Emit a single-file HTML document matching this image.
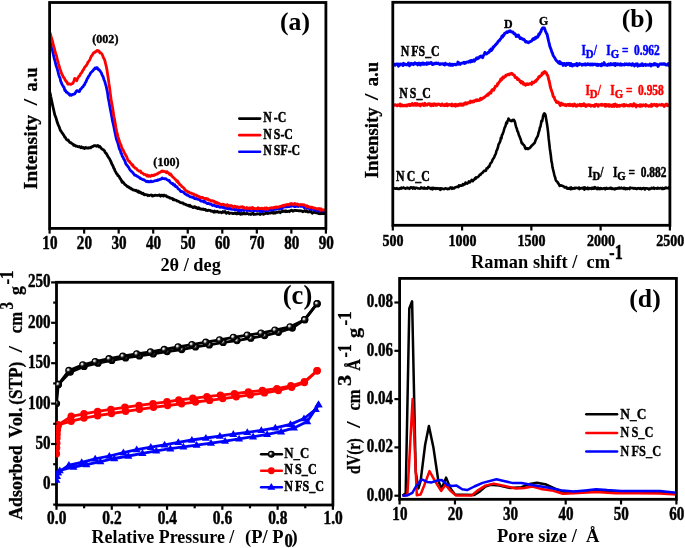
<!DOCTYPE html>
<html><head><meta charset="utf-8"><title>Figure</title>
<style>
html,body{margin:0;padding:0;background:#fff;}
svg{display:block;font-family:'Liberation Serif','DejaVu Serif',serif;}
</style></head><body>
<svg width="685" height="548" viewBox="0 0 685 548">
<rect width="685" height="548" fill="#fff"/>
<path d="M50.0,92.5 L50.7,96.3 L51.4,99.6 L52.1,102.8 L52.8,106.2 L53.5,109.0 L54.2,112.2 L54.9,115.2 L55.6,116.8 L56.3,118.9 L57.0,121.5 L57.7,123.4 L58.4,125.3 L59.1,126.6 L59.8,128.7 L60.5,130.6 L61.2,131.2 L61.9,132.8 L62.6,133.4 L63.3,134.7 L64.0,135.5 L64.7,137.1 L65.4,137.5 L66.1,139.0 L66.8,139.7 L67.5,140.3 L68.2,140.0 L68.9,141.4 L69.6,142.2 L70.3,142.8 L71.0,142.6 L71.7,143.5 L72.4,143.8 L73.1,144.3 L73.8,145.4 L74.5,145.0 L75.2,145.7 L75.9,146.3 L76.6,146.0 L77.3,146.4 L78.0,146.7 L78.7,146.8 L79.4,146.5 L80.1,147.1 L80.8,147.8 L81.5,146.8 L82.2,147.8 L82.9,147.7 L83.6,147.5 L84.3,148.6 L85.0,148.2 L85.7,147.5 L86.4,148.0 L87.1,148.2 L87.8,147.9 L88.5,148.2 L89.2,147.7 L89.9,147.8 L90.6,147.9 L91.3,146.8 L92.0,146.9 L92.7,146.4 L93.4,146.3 L94.1,145.6 L94.8,145.7 L95.5,145.7 L96.2,146.2 L96.9,146.3 L97.6,145.5 L98.3,146.0 L99.0,146.9 L99.7,146.3 L100.4,147.3 L101.1,148.0 L101.8,149.0 L102.5,149.3 L103.2,149.5 L103.9,150.2 L104.6,151.1 L105.3,152.8 L106.0,153.0 L106.7,154.2 L107.4,155.6 L108.1,156.7 L108.8,157.9 L109.5,158.7 L110.2,160.3 L110.9,161.5 L111.6,163.5 L112.3,164.8 L113.0,166.0 L113.7,167.9 L114.4,169.0 L115.1,171.0 L115.8,172.0 L116.5,173.6 L117.2,174.0 L117.9,175.7 L118.6,175.9 L119.3,176.8 L120.0,178.4 L120.7,179.1 L121.4,180.5 L122.1,182.2 L122.8,181.8 L123.5,182.6 L124.2,183.7 L124.9,184.5 L125.6,184.9 L126.3,185.5 L127.0,186.4 L127.7,186.8 L128.4,186.7 L129.1,187.5 L129.8,188.0 L130.5,187.9 L131.2,188.8 L131.9,188.8 L132.6,189.8 L133.3,189.9 L134.0,190.2 L134.7,190.2 L135.4,190.7 L136.1,190.2 L136.8,190.8 L137.5,191.7 L138.2,191.0 L138.9,192.4 L139.6,191.7 L140.3,192.9 L141.0,192.5 L141.7,193.5 L142.4,193.5 L143.1,193.1 L143.8,194.5 L144.5,194.9 L145.2,194.5 L145.9,194.7 L146.6,194.9 L147.3,194.8 L148.0,195.7 L148.7,195.2 L149.4,195.5 L150.1,195.2 L150.8,195.2 L151.5,195.0 L152.2,196.0 L152.9,195.4 L153.6,195.9 L154.3,195.5 L155.0,195.2 L155.7,195.4 L156.4,195.3 L157.1,195.5 L157.8,195.3 L158.5,195.4 L159.2,194.9 L159.9,195.2 L160.6,196.2 L161.3,195.2 L162.0,195.1 L162.7,195.6 L163.4,196.1 L164.1,195.1 L164.8,195.7 L165.5,195.8 L166.2,195.6 L166.9,196.8 L167.6,196.8 L168.3,197.2 L169.0,197.2 L169.7,198.0 L170.4,197.9 L171.1,198.4 L171.8,198.3 L172.5,198.5 L173.2,199.8 L173.9,199.3 L174.6,199.9 L175.3,200.1 L176.0,200.2 L176.7,200.5 L177.4,201.2 L178.1,201.1 L178.8,201.5 L179.5,201.9 L180.2,202.6 L180.9,202.7 L181.6,202.9 L182.3,202.8 L183.0,202.8 L183.7,204.0 L184.4,204.2 L185.1,204.1 L185.8,204.6 L186.5,204.9 L187.2,205.2 L187.9,205.5 L188.6,205.2 L189.3,206.2 L190.0,205.3 L190.7,206.4 L191.4,206.5 L192.1,206.8 L192.8,207.5 L193.5,207.5 L194.2,206.7 L194.9,206.7 L195.6,207.9 L196.3,207.4 L197.0,208.0 L197.7,208.5 L198.4,207.7 L199.1,207.8 L199.8,208.9 L200.5,209.0 L201.2,209.0 L201.9,209.3 L202.6,209.1 L203.3,209.0 L204.0,209.7 L204.7,209.5 L205.4,209.4 L206.1,210.4 L206.8,210.3 L207.5,210.6 L208.2,210.1 L208.9,210.4 L209.6,210.4 L210.3,210.5 L211.0,211.1 L211.7,210.8 L212.4,211.4 L213.1,211.5 L213.8,212.2 L214.5,211.0 L215.2,212.0 L215.9,211.7 L216.6,211.8 L217.3,211.3 L218.0,211.8 L218.7,212.4 L219.4,212.1 L220.1,212.2 L220.8,212.2 L221.5,212.8 L222.2,212.4 L222.9,211.6 L223.6,212.3 L224.3,211.8 L225.0,211.4 L225.7,212.5 L226.4,213.3 L227.1,212.9 L227.8,212.4 L228.5,212.6 L229.2,213.5 L229.9,213.1 L230.6,213.1 L231.3,213.1 L232.0,213.2 L232.7,213.6 L233.4,213.5 L234.1,213.4 L234.8,213.0 L235.5,213.6 L236.2,213.2 L236.9,213.9 L237.6,213.0 L238.3,213.5 L239.0,213.6 L239.7,213.1 L240.4,214.3 L241.1,214.2 L241.8,213.5 L242.5,214.0 L243.2,213.8 L243.9,212.7 L244.6,213.8 L245.3,213.7 L246.0,213.8 L246.7,213.3 L247.4,213.7 L248.1,213.7 L248.8,214.3 L249.5,214.0 L250.2,213.8 L250.9,214.5 L251.6,213.6 L252.3,213.7 L253.0,213.1 L253.7,214.5 L254.4,214.3 L255.1,214.3 L255.8,214.2 L256.5,213.9 L257.2,214.0 L257.9,213.8 L258.6,213.8 L259.3,213.9 L260.0,214.5 L260.7,214.0 L261.4,213.8 L262.1,213.5 L262.8,213.5 L263.5,214.3 L264.2,213.8 L264.9,213.6 L265.6,213.4 L266.3,213.0 L267.0,213.4 L267.7,213.7 L268.4,213.1 L269.1,213.1 L269.8,213.1 L270.5,213.1 L271.2,212.4 L271.9,212.9 L272.6,212.5 L273.3,213.2 L274.0,212.4 L274.7,212.9 L275.4,213.2 L276.1,212.4 L276.8,212.2 L277.5,212.4 L278.2,212.2 L278.9,211.7 L279.6,212.2 L280.3,212.7 L281.0,211.7 L281.7,211.6 L282.4,211.1 L283.1,211.6 L283.8,210.9 L284.5,210.8 L285.2,211.7 L285.9,210.8 L286.6,211.5 L287.3,211.6 L288.0,211.1 L288.7,211.2 L289.4,211.7 L290.1,210.8 L290.8,210.6 L291.5,210.2 L292.2,210.7 L292.9,211.3 L293.6,211.0 L294.3,210.3 L295.0,210.3 L295.7,210.4 L296.4,210.7 L297.1,210.5 L297.8,210.7 L298.5,210.8 L299.2,210.6 L299.9,210.7 L300.6,210.9 L301.3,210.8 L302.0,211.1 L302.7,211.7 L303.4,211.3 L304.1,211.1 L304.8,210.5 L305.5,211.4 L306.2,210.6 L306.9,210.9 L307.6,211.9 L308.3,212.0 L309.0,211.8 L309.7,211.3 L310.4,211.9 L311.1,211.9 L311.8,212.5 L312.5,213.3 L313.2,212.6 L313.9,212.2 L314.6,212.2 L315.3,212.7 L316.0,212.8 L316.7,212.5 L317.4,213.0 L318.1,212.6 L318.8,213.6 L319.5,213.7 L320.2,213.8 L320.9,213.2 L321.6,213.7 L322.3,213.5 L323.0,213.5 L323.7,213.6 L324.4,213.3 L325.1,213.3 L325.8,214.3" fill="none" stroke="#000000" stroke-width="2.8" stroke-linejoin="round" stroke-linecap="butt" />
<path d="M50.2,41.4 L50.9,44.6 L51.6,47.9 L52.3,49.8 L53.0,53.0 L53.7,56.2 L54.4,59.0 L55.1,61.3 L55.8,64.5 L56.5,66.7 L57.2,68.6 L57.9,71.3 L58.6,74.4 L59.3,76.7 L60.0,77.9 L60.7,81.3 L61.4,82.7 L62.1,84.6 L62.8,85.5 L63.5,86.9 L64.2,87.9 L64.9,90.6 L65.6,90.5 L66.3,92.1 L67.0,92.1 L67.7,93.2 L68.4,93.2 L69.1,94.3 L69.8,95.2 L70.5,94.5 L71.2,95.4 L71.9,95.0 L72.6,94.3 L73.3,94.3 L74.0,94.1 L74.7,93.9 L75.4,92.8 L76.1,91.4 L76.8,90.7 L77.5,90.6 L78.2,91.1 L78.9,91.7 L79.6,91.4 L80.3,89.4 L81.0,89.1 L81.7,88.0 L82.4,87.0 L83.1,86.8 L83.8,85.2 L84.5,84.9 L85.2,82.8 L85.9,81.9 L86.6,80.2 L87.3,78.6 L88.0,77.7 L88.7,76.1 L89.4,75.3 L90.1,74.0 L90.8,72.6 L91.5,72.1 L92.2,71.3 L92.9,70.9 L93.6,69.6 L94.3,69.3 L95.0,68.0 L95.7,68.5 L96.4,67.7 L97.1,67.6 L97.8,68.7 L98.5,69.9 L99.2,69.7 L99.9,70.7 L100.6,71.8 L101.3,72.8 L102.0,74.8 L102.7,75.9 L103.4,77.6 L104.1,80.0 L104.8,81.5 L105.5,84.2 L106.2,86.4 L106.9,89.6 L107.6,93.1 L108.3,98.5 L109.0,101.6 L109.7,105.8 L110.4,109.5 L111.1,113.1 L111.8,116.7 L112.5,121.1 L113.2,123.6 L113.9,127.0 L114.6,130.6 L115.3,133.6 L116.0,137.3 L116.7,139.9 L117.4,141.7 L118.1,143.9 L118.8,146.6 L119.5,149.4 L120.2,149.7 L120.9,152.9 L121.6,153.9 L122.3,156.4 L123.0,157.1 L123.7,158.9 L124.4,159.9 L125.1,161.5 L125.8,163.8 L126.5,164.8 L127.2,165.5 L127.9,166.5 L128.6,167.2 L129.3,168.8 L130.0,169.8 L130.7,170.6 L131.4,171.4 L132.1,171.7 L132.8,172.8 L133.5,173.5 L134.2,174.6 L134.9,175.4 L135.6,175.2 L136.3,175.5 L137.0,176.2 L137.7,176.5 L138.4,176.9 L139.1,177.6 L139.8,177.6 L140.5,178.6 L141.2,178.7 L141.9,179.2 L142.6,179.5 L143.3,179.6 L144.0,179.9 L144.7,180.5 L145.4,180.7 L146.1,181.4 L146.8,181.5 L147.5,181.2 L148.2,181.9 L148.9,181.4 L149.6,181.8 L150.3,181.9 L151.0,181.1 L151.7,181.8 L152.4,181.7 L153.1,181.5 L153.8,181.2 L154.5,181.0 L155.2,180.6 L155.9,180.7 L156.6,180.4 L157.3,180.5 L158.0,179.7 L158.7,180.0 L159.4,179.7 L160.1,179.3 L160.8,178.9 L161.5,179.0 L162.2,178.0 L162.9,178.7 L163.6,178.6 L164.3,178.7 L165.0,178.9 L165.7,178.7 L166.4,179.2 L167.1,179.8 L167.8,180.1 L168.5,180.5 L169.2,180.4 L169.9,181.8 L170.6,182.7 L171.3,183.3 L172.0,183.6 L172.7,183.4 L173.4,185.0 L174.1,185.1 L174.8,184.7 L175.5,186.5 L176.2,186.3 L176.9,187.0 L177.6,187.8 L178.3,189.1 L179.0,189.1 L179.7,189.9 L180.4,191.0 L181.1,191.5 L181.8,191.4 L182.5,191.8 L183.2,191.9 L183.9,192.6 L184.6,193.5 L185.3,194.0 L186.0,194.3 L186.7,195.0 L187.4,194.7 L188.1,195.4 L188.8,196.0 L189.5,196.3 L190.2,196.8 L190.9,196.9 L191.6,196.9 L192.3,197.5 L193.0,197.2 L193.7,197.3 L194.4,198.5 L195.1,198.5 L195.8,198.9 L196.5,198.4 L197.2,199.2 L197.9,199.3 L198.6,199.5 L199.3,199.2 L200.0,200.2 L200.7,201.0 L201.4,201.0 L202.1,200.9 L202.8,201.3 L203.5,201.9 L204.2,200.7 L204.9,202.0 L205.6,202.5 L206.3,202.8 L207.0,203.5 L207.7,203.5 L208.4,203.4 L209.1,203.7 L209.8,204.1 L210.5,203.8 L211.2,204.2 L211.9,204.9 L212.6,205.5 L213.3,204.9 L214.0,205.2 L214.7,205.5 L215.4,206.1 L216.1,205.8 L216.8,206.6 L217.5,205.8 L218.2,206.3 L218.9,206.5 L219.6,207.1 L220.3,207.3 L221.0,206.5 L221.7,206.9 L222.4,207.5 L223.1,207.3 L223.8,207.1 L224.5,208.2 L225.2,208.1 L225.9,208.3 L226.6,208.0 L227.3,208.7 L228.0,208.4 L228.7,209.0 L229.4,208.3 L230.1,208.5 L230.8,209.0 L231.5,208.8 L232.2,209.4 L232.9,209.4 L233.6,209.0 L234.3,209.5 L235.0,209.4 L235.7,210.0 L236.4,209.5 L237.1,209.6 L237.8,210.3 L238.5,210.8 L239.2,210.8 L239.9,210.0 L240.6,210.1 L241.3,210.7 L242.0,210.1 L242.7,209.8 L243.4,210.2 L244.1,210.4 L244.8,209.9 L245.5,209.6 L246.2,209.7 L246.9,210.6 L247.6,210.1 L248.3,210.3 L249.0,210.5 L249.7,210.7 L250.4,210.3 L251.1,210.7 L251.8,210.2 L252.5,210.4 L253.2,210.1 L253.9,211.0 L254.6,210.6 L255.3,210.3 L256.0,210.5 L256.7,210.5 L257.4,210.9 L258.1,210.0 L258.8,210.2 L259.5,210.4 L260.2,211.6 L260.9,210.9 L261.6,210.5 L262.3,210.8 L263.0,211.3 L263.7,210.3 L264.4,210.2 L265.1,210.8 L265.8,210.5 L266.5,210.5 L267.2,210.0 L267.9,210.9 L268.6,210.7 L269.3,210.2 L270.0,210.2 L270.7,209.1 L271.4,210.1 L272.1,209.7 L272.8,209.8 L273.5,209.9 L274.2,209.4 L274.9,208.7 L275.6,209.4 L276.3,208.8 L277.0,208.8 L277.7,208.6 L278.4,208.5 L279.1,207.6 L279.8,208.8 L280.5,208.2 L281.2,208.4 L281.9,208.6 L282.6,207.6 L283.3,206.8 L284.0,207.0 L284.7,206.7 L285.4,206.8 L286.1,206.9 L286.8,206.0 L287.5,206.8 L288.2,206.0 L288.9,206.7 L289.6,206.4 L290.3,206.2 L291.0,206.3 L291.7,206.0 L292.4,205.9 L293.1,205.4 L293.8,206.0 L294.5,206.7 L295.2,206.7 L295.9,206.4 L296.6,206.2 L297.3,205.6 L298.0,206.5 L298.7,206.0 L299.4,206.1 L300.1,206.1 L300.8,206.3 L301.5,206.2 L302.2,206.4 L302.9,206.2 L303.6,206.6 L304.3,207.8 L305.0,207.0 L305.7,207.1 L306.4,207.6 L307.1,207.9 L307.8,207.4 L308.5,208.0 L309.2,208.7 L309.9,208.7 L310.6,208.8 L311.3,209.6 L312.0,208.9 L312.7,209.3 L313.4,209.2 L314.1,210.2 L314.8,208.9 L315.5,209.6 L316.2,209.8 L316.9,210.4 L317.6,210.5 L318.3,210.9 L319.0,209.8 L319.7,210.9 L320.4,210.5 L321.1,210.5 L321.8,211.1 L322.5,210.6 L323.2,210.2 L323.9,211.0 L324.6,210.6 L325.3,211.0 L326.0,211.4" fill="none" stroke="#0000ff" stroke-width="2.8" stroke-linejoin="round" stroke-linecap="butt" />
<path d="M50.2,32.8 L50.9,36.2 L51.6,38.2 L52.3,40.4 L53.0,43.4 L53.7,46.0 L54.4,48.5 L55.1,51.7 L55.8,53.8 L56.5,55.7 L57.2,59.3 L57.9,61.4 L58.6,64.1 L59.3,66.4 L60.0,68.9 L60.7,70.7 L61.4,73.0 L62.1,74.3 L62.8,75.8 L63.5,77.3 L64.2,77.8 L64.9,79.6 L65.6,80.6 L66.3,81.7 L67.0,81.9 L67.7,84.0 L68.4,84.1 L69.1,84.0 L69.8,83.9 L70.5,84.4 L71.2,84.3 L71.9,83.7 L72.6,83.6 L73.3,82.5 L74.0,80.7 L74.7,78.4 L75.4,78.9 L76.1,80.0 L76.8,80.7 L77.5,78.5 L78.2,77.5 L78.9,76.3 L79.6,76.0 L80.3,74.2 L81.0,73.4 L81.7,72.6 L82.4,71.1 L83.1,70.1 L83.8,69.2 L84.5,67.5 L85.2,66.7 L85.9,66.0 L86.6,65.1 L87.3,63.9 L88.0,62.1 L88.7,61.4 L89.4,60.5 L90.1,59.0 L90.8,57.4 L91.5,55.8 L92.2,55.3 L92.9,53.9 L93.6,52.9 L94.3,52.3 L95.0,52.4 L95.7,51.3 L96.4,51.3 L97.1,50.4 L97.8,51.0 L98.5,50.7 L99.2,51.3 L99.9,52.9 L100.6,52.9 L101.3,53.2 L102.0,54.2 L102.7,55.6 L103.4,57.6 L104.1,58.8 L104.8,60.4 L105.5,63.4 L106.2,66.1 L106.9,69.5 L107.6,74.2 L108.3,78.6 L109.0,83.9 L109.7,88.4 L110.4,94.3 L111.1,99.5 L111.8,103.2 L112.5,107.3 L113.2,111.6 L113.9,116.5 L114.6,119.6 L115.3,124.0 L116.0,128.0 L116.7,131.5 L117.4,134.2 L118.1,137.1 L118.8,139.2 L119.5,141.5 L120.2,143.3 L120.9,144.7 L121.6,146.9 L122.3,148.8 L123.0,149.6 L123.7,151.3 L124.4,153.1 L125.1,153.7 L125.8,155.5 L126.5,156.3 L127.2,158.4 L127.9,160.0 L128.6,161.0 L129.3,161.1 L130.0,162.5 L130.7,163.1 L131.4,163.9 L132.1,165.3 L132.8,164.9 L133.5,166.6 L134.2,166.8 L134.9,168.1 L135.6,168.2 L136.3,168.5 L137.0,169.5 L137.7,170.2 L138.4,170.5 L139.1,171.2 L139.8,171.2 L140.5,171.0 L141.2,172.7 L141.9,173.0 L142.6,173.2 L143.3,173.6 L144.0,174.5 L144.7,174.3 L145.4,174.5 L146.1,175.1 L146.8,175.9 L147.5,175.1 L148.2,176.3 L148.9,175.7 L149.6,175.6 L150.3,176.5 L151.0,175.8 L151.7,175.2 L152.4,175.4 L153.1,175.7 L153.8,175.6 L154.5,174.7 L155.2,174.8 L155.9,174.7 L156.6,173.9 L157.3,174.0 L158.0,173.5 L158.7,172.9 L159.4,172.5 L160.1,172.3 L160.8,171.8 L161.5,171.2 L162.2,171.0 L162.9,171.5 L163.6,171.1 L164.3,171.5 L165.0,171.8 L165.7,171.7 L166.4,172.7 L167.1,171.7 L167.8,172.7 L168.5,172.8 L169.2,174.2 L169.9,174.7 L170.6,173.9 L171.3,175.0 L172.0,176.3 L172.7,176.9 L173.4,177.6 L174.1,178.0 L174.8,178.9 L175.5,179.7 L176.2,180.2 L176.9,181.5 L177.6,180.9 L178.3,182.9 L179.0,183.0 L179.7,184.6 L180.4,184.9 L181.1,185.4 L181.8,186.7 L182.5,186.9 L183.2,187.6 L183.9,188.0 L184.6,189.2 L185.3,190.0 L186.0,190.7 L186.7,190.8 L187.4,191.7 L188.1,191.6 L188.8,192.0 L189.5,192.6 L190.2,193.2 L190.9,193.0 L191.6,193.3 L192.3,193.7 L193.0,194.1 L193.7,194.0 L194.4,195.1 L195.1,194.8 L195.8,195.4 L196.5,195.2 L197.2,195.9 L197.9,196.2 L198.6,196.1 L199.3,197.4 L200.0,196.9 L200.7,197.8 L201.4,197.7 L202.1,197.3 L202.8,197.6 L203.5,198.2 L204.2,198.3 L204.9,198.6 L205.6,198.7 L206.3,198.4 L207.0,199.3 L207.7,198.7 L208.4,200.0 L209.1,199.9 L209.8,200.1 L210.5,200.6 L211.2,201.1 L211.9,200.6 L212.6,200.8 L213.3,201.3 L214.0,201.1 L214.7,201.8 L215.4,203.1 L216.1,202.2 L216.8,203.1 L217.5,202.6 L218.2,203.4 L218.9,203.4 L219.6,203.7 L220.3,204.1 L221.0,204.8 L221.7,204.3 L222.4,204.4 L223.1,204.2 L223.8,204.9 L224.5,204.7 L225.2,205.3 L225.9,205.1 L226.6,206.0 L227.3,204.6 L228.0,205.4 L228.7,206.0 L229.4,205.7 L230.1,205.6 L230.8,205.9 L231.5,205.6 L232.2,206.3 L232.9,207.4 L233.6,206.9 L234.3,206.1 L235.0,206.3 L235.7,206.6 L236.4,207.3 L237.1,206.6 L237.8,206.8 L238.5,207.5 L239.2,207.6 L239.9,207.1 L240.6,206.9 L241.3,206.8 L242.0,207.2 L242.7,206.7 L243.4,208.0 L244.1,207.5 L244.8,208.0 L245.5,208.6 L246.2,208.4 L246.9,207.5 L247.6,208.4 L248.3,208.6 L249.0,207.9 L249.7,207.9 L250.4,208.3 L251.1,207.7 L251.8,209.0 L252.5,207.5 L253.2,208.0 L253.9,208.4 L254.6,208.5 L255.3,208.6 L256.0,208.7 L256.7,208.5 L257.4,209.1 L258.1,207.7 L258.8,208.6 L259.5,208.3 L260.2,208.6 L260.9,208.6 L261.6,208.2 L262.3,208.3 L263.0,208.8 L263.7,208.6 L264.4,208.1 L265.1,209.2 L265.8,209.3 L266.5,207.7 L267.2,208.4 L267.9,209.2 L268.6,208.5 L269.3,208.2 L270.0,208.0 L270.7,207.8 L271.4,207.9 L272.1,207.7 L272.8,208.2 L273.5,207.6 L274.2,207.5 L274.9,207.1 L275.6,207.5 L276.3,207.0 L277.0,207.1 L277.7,207.4 L278.4,207.0 L279.1,206.9 L279.8,206.6 L280.5,206.3 L281.2,206.1 L281.9,205.8 L282.6,206.1 L283.3,205.2 L284.0,206.0 L284.7,205.3 L285.4,204.9 L286.1,204.8 L286.8,204.6 L287.5,204.9 L288.2,204.4 L288.9,205.1 L289.6,204.2 L290.3,203.6 L291.0,204.1 L291.7,203.5 L292.4,204.2 L293.1,204.6 L293.8,204.4 L294.5,203.5 L295.2,203.7 L295.9,204.7 L296.6,204.1 L297.3,204.0 L298.0,204.5 L298.7,205.2 L299.4,204.8 L300.1,204.5 L300.8,204.7 L301.5,204.9 L302.2,204.6 L302.9,204.6 L303.6,205.1 L304.3,204.9 L305.0,205.5 L305.7,205.7 L306.4,206.9 L307.1,205.8 L307.8,206.3 L308.5,206.6 L309.2,207.0 L309.9,207.5 L310.6,207.1 L311.3,207.2 L312.0,207.1 L312.7,207.5 L313.4,208.3 L314.1,208.2 L314.8,208.0 L315.5,208.4 L316.2,208.7 L316.9,209.0 L317.6,208.7 L318.3,209.0 L319.0,208.5 L319.7,208.9 L320.4,210.2 L321.1,208.8 L321.8,209.6 L322.5,210.0 L323.2,209.9 L323.9,209.8 L324.6,210.2 L325.3,210.3 L326.0,210.4" fill="none" stroke="#ff0000" stroke-width="2.8" stroke-linejoin="round" stroke-linecap="butt" />
<rect x="49.6" y="2.5" width="276.30" height="225.90" fill="none" stroke="#000" stroke-width="2.8"/>
<line x1="49.60" y1="228.4" x2="49.60" y2="233.6" stroke="#000" stroke-width="2.2"/>
<line x1="84.14" y1="228.4" x2="84.14" y2="233.6" stroke="#000" stroke-width="2.2"/>
<line x1="118.67" y1="228.4" x2="118.67" y2="233.6" stroke="#000" stroke-width="2.2"/>
<line x1="153.21" y1="228.4" x2="153.21" y2="233.6" stroke="#000" stroke-width="2.2"/>
<line x1="187.75" y1="228.4" x2="187.75" y2="233.6" stroke="#000" stroke-width="2.2"/>
<line x1="222.29" y1="228.4" x2="222.29" y2="233.6" stroke="#000" stroke-width="2.2"/>
<line x1="256.82" y1="228.4" x2="256.82" y2="233.6" stroke="#000" stroke-width="2.2"/>
<line x1="291.36" y1="228.4" x2="291.36" y2="233.6" stroke="#000" stroke-width="2.2"/>
<line x1="325.90" y1="228.4" x2="325.90" y2="233.6" stroke="#000" stroke-width="2.2"/>
<text transform="translate(49.9,248.5) scale(0.83,1)" font-size="18.2" text-anchor="middle" fill="#000" font-weight="bold" stroke="#000" stroke-width="0.5" stroke-linejoin="round">10</text>
<text transform="translate(84.4,248.5) scale(0.83,1)" font-size="18.2" text-anchor="middle" fill="#000" font-weight="bold" stroke="#000" stroke-width="0.5" stroke-linejoin="round">20</text>
<text transform="translate(119.0,248.5) scale(0.83,1)" font-size="18.2" text-anchor="middle" fill="#000" font-weight="bold" stroke="#000" stroke-width="0.5" stroke-linejoin="round">30</text>
<text transform="translate(153.5,248.5) scale(0.83,1)" font-size="18.2" text-anchor="middle" fill="#000" font-weight="bold" stroke="#000" stroke-width="0.5" stroke-linejoin="round">40</text>
<text transform="translate(188.0,248.5) scale(0.83,1)" font-size="18.2" text-anchor="middle" fill="#000" font-weight="bold" stroke="#000" stroke-width="0.5" stroke-linejoin="round">50</text>
<text transform="translate(222.6,248.5) scale(0.83,1)" font-size="18.2" text-anchor="middle" fill="#000" font-weight="bold" stroke="#000" stroke-width="0.5" stroke-linejoin="round">60</text>
<text transform="translate(257.1,248.5) scale(0.83,1)" font-size="18.2" text-anchor="middle" fill="#000" font-weight="bold" stroke="#000" stroke-width="0.5" stroke-linejoin="round">70</text>
<text transform="translate(291.7,248.5) scale(0.83,1)" font-size="18.2" text-anchor="middle" fill="#000" font-weight="bold" stroke="#000" stroke-width="0.5" stroke-linejoin="round">80</text>
<text transform="translate(326.2,248.5) scale(0.83,1)" font-size="18.2" text-anchor="middle" fill="#000" font-weight="bold" stroke="#000" stroke-width="0.5" stroke-linejoin="round">90</text>
<text transform="translate(190.6,270.9)" font-size="18.3" text-anchor="middle" fill="#000" font-weight="bold">2θ / deg</text>
<text transform="translate(37.2,189.39) rotate(-90) scale(1.012,1)" font-size="19.5" text-anchor="start" fill="#000" font-weight="bold" stroke="#000" stroke-width="0.3" stroke-linejoin="round">Intensity</text>
<text transform="translate(37.2,102.2) rotate(-90) scale(1.25,1)" font-size="19.5" text-anchor="middle" fill="#000" font-weight="bold">/</text>
<text transform="translate(37.2,91.55) rotate(-90) scale(0.948,1)" font-size="19.5" text-anchor="start" fill="#000" font-weight="bold" stroke="#000" stroke-width="0.3" stroke-linejoin="round">a.u</text>
<text transform="translate(295,30.2)" font-size="25.7" text-anchor="middle" fill="#000" font-weight="bold">(a)</text>
<text transform="translate(105.3,42.6) scale(0.92,1)" font-size="13.2" text-anchor="middle" fill="#000" font-weight="bold" stroke="#000" stroke-width="0.35" stroke-linejoin="round">(002)</text>
<text transform="translate(166.5,165.5) scale(0.92,1)" font-size="13.2" text-anchor="middle" fill="#000" font-weight="bold" stroke="#000" stroke-width="0.35" stroke-linejoin="round">(100)</text>
<line x1="239.3" y1="118.60" x2="260.1" y2="118.60" stroke="#000000" stroke-width="2.6" stroke-linecap="round"/>
<text transform="translate(263.3,122.20) scale(0.81,1)" font-size="14.6" text-anchor="start" fill="#000" font-weight="bold" stroke="#000" stroke-width="0.5" stroke-linejoin="round">N<tspan dx="2.5">-C</tspan></text>
<line x1="239.3" y1="135.15" x2="260.1" y2="135.15" stroke="#ff0000" stroke-width="2.6" stroke-linecap="round"/>
<text transform="translate(263.3,138.75) scale(0.81,1)" font-size="14.6" text-anchor="start" fill="#000" font-weight="bold" stroke="#000" stroke-width="0.5" stroke-linejoin="round">N<tspan dx="2.5">S-C</tspan></text>
<line x1="239.3" y1="151.70" x2="260.1" y2="151.70" stroke="#0000ff" stroke-width="2.6" stroke-linecap="round"/>
<text transform="translate(263.3,155.30) scale(0.81,1)" font-size="14.6" text-anchor="start" fill="#000" font-weight="bold" stroke="#000" stroke-width="0.5" stroke-linejoin="round">N<tspan dx="2.5">SF-C</tspan></text>
<path d="M393.0,187.8 L393.6,188.5 L394.1,188.2 L394.7,188.3 L395.2,188.6 L395.8,188.8 L396.3,188.8 L396.9,188.2 L397.4,188.8 L398.0,188.9 L398.5,188.9 L399.1,189.0 L399.6,188.2 L400.2,188.2 L400.7,188.6 L401.3,187.6 L401.8,188.3 L402.4,188.0 L402.9,188.0 L403.5,187.4 L404.0,187.8 L404.6,188.2 L405.1,188.6 L405.7,188.6 L406.2,188.1 L406.8,188.0 L407.3,187.7 L407.9,188.3 L408.4,188.0 L409.0,188.4 L409.5,188.9 L410.1,188.0 L410.6,187.4 L411.2,187.7 L411.7,187.4 L412.3,187.5 L412.8,188.6 L413.4,188.1 L413.9,187.3 L414.5,188.3 L415.0,188.6 L415.6,187.8 L416.1,187.7 L416.7,187.9 L417.2,188.1 L417.8,188.3 L418.3,188.5 L418.9,188.5 L419.4,188.5 L420.0,188.6 L420.5,188.3 L421.1,187.3 L421.6,188.0 L422.2,188.2 L422.7,187.9 L423.3,188.5 L423.8,187.9 L424.4,187.7 L424.9,188.7 L425.5,188.4 L426.0,188.2 L426.6,188.6 L427.1,188.7 L427.7,188.3 L428.2,187.1 L428.8,187.9 L429.3,188.1 L429.9,187.9 L430.4,188.4 L431.0,188.9 L431.5,188.1 L432.1,187.9 L432.6,189.3 L433.2,188.2 L433.7,187.9 L434.3,188.6 L434.8,188.7 L435.4,188.2 L435.9,188.9 L436.5,188.3 L437.0,188.1 L437.6,188.7 L438.1,188.9 L438.7,188.3 L439.2,188.7 L439.8,188.6 L440.3,189.9 L440.9,188.3 L441.4,189.2 L442.0,188.6 L442.5,188.5 L443.1,188.9 L443.6,189.0 L444.2,189.1 L444.7,188.7 L445.3,188.2 L445.8,188.2 L446.4,188.7 L446.9,188.7 L447.5,189.1 L448.0,188.6 L448.6,188.9 L449.1,189.0 L449.7,188.4 L450.2,187.6 L450.8,187.7 L451.3,187.5 L451.9,188.8 L452.4,187.6 L453.0,188.5 L453.5,188.1 L454.1,188.4 L454.6,188.0 L455.2,187.3 L455.7,187.1 L456.3,187.1 L456.8,187.0 L457.4,186.5 L457.9,186.5 L458.5,187.1 L459.0,185.4 L459.6,186.1 L460.1,185.4 L460.7,185.7 L461.2,185.8 L461.8,185.2 L462.3,185.4 L462.9,184.1 L463.4,185.1 L464.0,184.1 L464.5,184.5 L465.1,184.0 L465.6,182.5 L466.2,183.1 L466.7,183.3 L467.3,183.6 L467.8,182.8 L468.4,182.5 L468.9,181.4 L469.5,182.4 L470.0,182.3 L470.6,181.2 L471.1,180.8 L471.7,179.9 L472.2,180.7 L472.8,181.2 L473.3,180.0 L473.9,179.9 L474.4,179.3 L475.0,178.2 L475.5,178.9 L476.1,177.4 L476.6,177.5 L477.2,177.4 L477.7,177.2 L478.3,176.6 L478.8,176.2 L479.4,175.3 L479.9,174.6 L480.5,174.8 L481.0,174.0 L481.6,173.3 L482.1,172.9 L482.7,172.8 L483.2,171.7 L483.8,171.4 L484.3,170.7 L484.9,171.0 L485.4,170.5 L486.0,170.7 L486.5,168.5 L487.1,168.3 L487.6,168.3 L488.2,167.1 L488.7,166.4 L489.3,166.6 L489.8,164.8 L490.4,163.6 L490.9,162.7 L491.5,162.5 L492.0,161.5 L492.6,159.7 L493.1,158.8 L493.7,158.3 L494.2,157.2 L494.8,155.5 L495.3,154.8 L495.9,153.4 L496.4,150.9 L497.0,150.0 L497.5,148.8 L498.1,146.7 L498.6,144.3 L499.2,143.5 L499.7,142.4 L500.3,141.2 L500.8,137.9 L501.4,138.5 L501.9,135.2 L502.5,134.5 L503.0,133.0 L503.6,131.4 L504.1,129.5 L504.7,127.4 L505.2,126.9 L505.8,124.9 L506.3,122.5 L506.9,123.4 L507.4,121.1 L508.0,120.5 L508.5,118.6 L509.1,119.5 L509.6,120.0 L510.2,120.8 L510.7,120.9 L511.3,120.8 L511.8,121.1 L512.4,120.0 L512.9,119.9 L513.5,120.5 L514.0,120.0 L514.6,121.1 L515.1,122.6 L515.7,125.4 L516.2,127.2 L516.8,128.6 L517.3,131.0 L517.9,131.6 L518.4,133.4 L519.0,135.5 L519.5,136.2 L520.1,138.1 L520.6,139.1 L521.2,141.2 L521.7,143.1 L522.3,143.0 L522.8,144.3 L523.4,144.6 L523.9,145.2 L524.5,145.9 L525.0,147.8 L525.6,148.8 L526.1,148.4 L526.7,148.1 L527.2,148.9 L527.8,148.4 L528.3,148.8 L528.9,148.4 L529.4,148.1 L530.0,147.9 L530.5,147.0 L531.1,146.6 L531.6,145.5 L532.2,145.5 L532.7,144.5 L533.3,144.5 L533.8,143.5 L534.4,143.2 L534.9,142.4 L535.5,140.4 L536.0,139.4 L536.6,137.9 L537.1,137.2 L537.7,136.2 L538.2,134.2 L538.8,131.9 L539.3,130.8 L539.9,127.5 L540.4,126.8 L541.0,123.7 L541.5,120.8 L542.1,121.4 L542.6,118.9 L543.2,115.6 L543.7,114.4 L544.3,113.3 L544.8,113.7 L545.4,114.6 L545.9,117.4 L546.5,121.0 L547.0,124.0 L547.6,128.1 L548.1,132.3 L548.7,138.7 L549.2,142.9 L549.8,148.4 L550.3,151.7 L550.9,156.0 L551.4,160.9 L552.0,163.4 L552.5,167.3 L553.1,169.8 L553.6,171.7 L554.2,174.3 L554.7,176.2 L555.3,178.0 L555.8,180.1 L556.4,181.1 L556.9,181.4 L557.5,182.0 L558.0,183.2 L558.6,183.6 L559.1,184.7 L559.7,185.9 L560.2,185.5 L560.8,185.4 L561.3,185.7 L561.9,185.6 L562.4,185.8 L563.0,186.0 L563.5,186.5 L564.1,186.7 L564.6,187.5 L565.2,187.1 L565.7,187.4 L566.3,187.0 L566.8,188.4 L567.4,188.0 L567.9,188.7 L568.5,188.3 L569.0,188.6 L569.6,187.8 L570.1,188.3 L570.7,189.2 L571.2,187.4 L571.8,188.5 L572.3,188.8 L572.9,188.2 L573.4,188.4 L574.0,188.7 L574.5,187.8 L575.1,188.3 L575.6,187.7 L576.2,187.8 L576.7,187.9 L577.3,188.1 L577.8,188.2 L578.4,188.4 L578.9,187.5 L579.5,189.1 L580.0,188.7 L580.6,188.5 L581.1,188.0 L581.7,188.2 L582.2,188.5 L582.8,188.4 L583.3,187.5 L583.9,188.6 L584.4,189.6 L585.0,187.4 L585.5,188.7 L586.1,188.4 L586.6,188.2 L587.2,188.9 L587.7,187.7 L588.3,188.4 L588.8,189.0 L589.4,188.2 L589.9,188.1 L590.5,188.4 L591.0,188.1 L591.6,189.0 L592.1,187.9 L592.7,188.7 L593.2,187.7 L593.8,188.6 L594.3,188.3 L594.9,187.1 L595.4,188.3 L596.0,187.9 L596.5,188.1 L597.1,189.1 L597.6,187.8 L598.2,187.9 L598.7,189.0 L599.3,188.4 L599.8,189.1 L600.4,188.5 L600.9,188.0 L601.5,188.4 L602.0,189.0 L602.6,188.8 L603.1,188.4 L603.7,188.4 L604.2,188.4 L604.8,188.1 L605.3,189.3 L605.9,188.4 L606.4,187.9 L607.0,188.2 L607.5,188.8 L608.1,188.7 L608.6,188.4 L609.2,188.1 L609.7,188.5 L610.3,187.7 L610.8,187.8 L611.4,188.8 L611.9,188.2 L612.5,188.6 L613.0,189.0 L613.6,188.8 L614.1,188.5 L614.7,189.4 L615.2,188.8 L615.8,188.3 L616.3,188.8 L616.9,188.7 L617.4,188.1 L618.0,188.5 L618.5,188.4 L619.1,187.6 L619.6,188.4 L620.2,188.4 L620.7,188.3 L621.3,187.7 L621.8,188.3 L622.4,188.5 L622.9,188.5 L623.5,188.0 L624.0,188.8 L624.6,187.9 L625.1,188.4 L625.7,189.1 L626.2,188.2 L626.8,188.3 L627.3,189.0 L627.9,188.3 L628.4,188.4 L629.0,188.6 L629.5,189.0 L630.1,187.5 L630.6,188.1 L631.2,188.0 L631.7,188.0 L632.3,188.1 L632.8,188.1 L633.4,188.6 L633.9,188.1 L634.5,188.6 L635.0,188.7 L635.6,188.2 L636.1,188.6 L636.7,189.2 L637.2,188.6 L637.8,188.2 L638.3,188.5 L638.9,188.1 L639.4,188.6 L640.0,188.9 L640.5,188.1 L641.1,188.4 L641.6,189.0 L642.2,188.3 L642.7,188.6 L643.3,188.0 L643.8,188.1 L644.4,188.2 L644.9,189.5 L645.5,188.3 L646.0,188.2 L646.6,188.2 L647.1,188.4 L647.7,188.8 L648.2,188.5 L648.8,189.4 L649.3,188.5 L649.9,189.1 L650.4,188.6 L651.0,188.7 L651.5,187.8 L652.1,188.4 L652.6,188.4 L653.2,188.3 L653.7,187.5 L654.3,188.8 L654.8,188.2 L655.4,188.2 L655.9,188.3 L656.5,188.3 L657.0,188.6 L657.6,187.8 L658.1,188.0 L658.7,188.5 L659.2,188.5 L659.8,188.2 L660.3,188.1 L660.9,188.0 L661.4,188.4 L662.0,188.9 L662.5,187.9 L663.1,189.0 L663.6,188.7 L664.2,188.2 L664.7,188.7 L665.3,187.7 L665.8,187.6 L666.4,187.8 L666.9,188.1 L667.5,188.2 L668.0,188.1 L668.6,188.4 L669.1,187.3 L669.7,188.5" fill="none" stroke="#000000" stroke-width="2.6" stroke-linejoin="round" stroke-linecap="butt" />
<path d="M393.0,104.7 L393.6,105.2 L394.1,105.3 L394.7,104.8 L395.2,104.7 L395.8,104.9 L396.3,105.5 L396.9,105.8 L397.4,105.8 L398.0,104.8 L398.5,104.9 L399.1,104.8 L399.6,105.6 L400.2,104.1 L400.7,106.1 L401.3,105.0 L401.8,104.8 L402.4,105.5 L402.9,105.9 L403.5,105.4 L404.0,105.8 L404.6,105.3 L405.1,105.9 L405.7,105.9 L406.2,105.1 L406.8,106.0 L407.3,105.2 L407.9,105.1 L408.4,104.5 L409.0,104.9 L409.5,105.5 L410.1,104.2 L410.6,105.4 L411.2,105.2 L411.7,105.1 L412.3,103.6 L412.8,104.8 L413.4,105.3 L413.9,104.4 L414.5,104.9 L415.0,103.4 L415.6,105.2 L416.1,104.4 L416.7,105.3 L417.2,103.6 L417.8,105.1 L418.3,104.5 L418.9,105.1 L419.4,104.1 L420.0,104.2 L420.5,105.9 L421.1,104.1 L421.6,104.1 L422.2,104.4 L422.7,103.9 L423.3,105.2 L423.8,105.5 L424.4,104.1 L424.9,103.4 L425.5,105.2 L426.0,105.1 L426.6,104.9 L427.1,105.1 L427.7,103.9 L428.2,104.3 L428.8,103.6 L429.3,103.6 L429.9,105.0 L430.4,104.0 L431.0,105.8 L431.5,104.5 L432.1,104.0 L432.6,104.9 L433.2,105.5 L433.7,104.8 L434.3,103.7 L434.8,104.7 L435.4,105.3 L435.9,104.2 L436.5,104.1 L437.0,105.2 L437.6,104.7 L438.1,104.0 L438.7,104.4 L439.2,104.2 L439.8,104.9 L440.3,104.8 L440.9,105.5 L441.4,105.2 L442.0,103.9 L442.5,105.1 L443.1,105.4 L443.6,105.2 L444.2,105.6 L444.7,104.7 L445.3,104.4 L445.8,105.6 L446.4,104.4 L446.9,103.8 L447.5,105.8 L448.0,104.8 L448.6,105.1 L449.1,104.4 L449.7,104.5 L450.2,104.7 L450.8,105.2 L451.3,105.6 L451.9,104.0 L452.4,105.8 L453.0,104.7 L453.5,104.7 L454.1,105.7 L454.6,105.2 L455.2,104.3 L455.7,106.2 L456.3,104.5 L456.8,105.1 L457.4,105.0 L457.9,105.6 L458.5,104.4 L459.0,105.2 L459.6,104.1 L460.1,105.1 L460.7,103.9 L461.2,104.0 L461.8,105.3 L462.3,104.3 L462.9,104.0 L463.4,105.2 L464.0,104.0 L464.5,103.2 L465.1,104.0 L465.6,102.8 L466.2,104.0 L466.7,104.0 L467.3,102.8 L467.8,102.6 L468.4,103.0 L468.9,102.8 L469.5,102.0 L470.0,102.8 L470.6,101.1 L471.1,102.0 L471.7,101.8 L472.2,101.8 L472.8,102.0 L473.3,100.9 L473.9,101.8 L474.4,101.2 L475.0,100.7 L475.5,100.1 L476.1,100.0 L476.6,100.8 L477.2,99.8 L477.7,100.2 L478.3,100.6 L478.8,100.3 L479.4,100.4 L479.9,99.1 L480.5,98.4 L481.0,99.4 L481.6,98.7 L482.1,98.9 L482.7,97.9 L483.2,98.3 L483.8,97.7 L484.3,97.3 L484.9,96.8 L485.4,96.4 L486.0,95.9 L486.5,95.5 L487.1,95.5 L487.6,94.2 L488.2,95.1 L488.7,93.6 L489.3,93.8 L489.8,92.6 L490.4,92.1 L490.9,93.0 L491.5,91.1 L492.0,89.9 L492.6,89.7 L493.1,89.3 L493.7,90.2 L494.2,88.4 L494.8,88.2 L495.3,86.3 L495.9,86.5 L496.4,86.0 L497.0,86.0 L497.5,83.8 L498.1,83.9 L498.6,83.1 L499.2,81.7 L499.7,81.7 L500.3,80.9 L500.8,78.9 L501.4,80.0 L501.9,79.3 L502.5,78.0 L503.0,76.9 L503.6,78.0 L504.1,76.7 L504.7,76.7 L505.2,76.6 L505.8,75.2 L506.3,75.7 L506.9,74.8 L507.4,74.7 L508.0,74.4 L508.5,74.3 L509.1,74.8 L509.6,74.0 L510.2,73.8 L510.7,73.6 L511.3,74.0 L511.8,73.4 L512.4,73.9 L512.9,74.5 L513.5,74.6 L514.0,75.3 L514.6,75.5 L515.1,77.5 L515.7,77.6 L516.2,77.5 L516.8,77.6 L517.3,79.5 L517.9,78.8 L518.4,79.1 L519.0,79.9 L519.5,80.4 L520.1,81.6 L520.6,81.2 L521.2,82.9 L521.7,81.5 L522.3,82.8 L522.8,82.2 L523.4,84.3 L523.9,83.4 L524.5,83.9 L525.0,84.8 L525.6,85.2 L526.1,83.9 L526.7,84.4 L527.2,83.7 L527.8,84.6 L528.3,84.4 L528.9,84.1 L529.4,83.8 L530.0,83.8 L530.5,83.4 L531.1,84.0 L531.6,84.4 L532.2,82.1 L532.7,82.9 L533.3,82.5 L533.8,82.8 L534.4,81.6 L534.9,81.7 L535.5,80.7 L536.0,81.2 L536.6,80.2 L537.1,79.4 L537.7,79.1 L538.2,78.1 L538.8,76.7 L539.3,77.4 L539.9,76.6 L540.4,75.8 L541.0,75.8 L541.5,75.3 L542.1,73.3 L542.6,72.8 L543.2,73.7 L543.7,73.2 L544.3,71.7 L544.8,71.4 L545.4,72.1 L545.9,72.8 L546.5,73.0 L547.0,75.0 L547.6,75.3 L548.1,76.7 L548.7,79.8 L549.2,81.1 L549.8,83.9 L550.3,86.7 L550.9,89.0 L551.4,90.1 L552.0,92.0 L552.5,93.1 L553.1,96.2 L553.6,97.0 L554.2,97.2 L554.7,99.0 L555.3,100.3 L555.8,100.8 L556.4,102.2 L556.9,102.5 L557.5,101.9 L558.0,102.6 L558.6,102.3 L559.1,103.6 L559.7,103.8 L560.2,105.6 L560.8,104.2 L561.3,103.0 L561.9,104.0 L562.4,104.7 L563.0,104.0 L563.5,104.3 L564.1,104.7 L564.6,105.3 L565.2,105.0 L565.7,104.6 L566.3,105.7 L566.8,104.9 L567.4,104.9 L567.9,104.4 L568.5,104.7 L569.0,105.6 L569.6,104.2 L570.1,105.2 L570.7,105.6 L571.2,105.0 L571.8,105.3 L572.3,104.5 L572.9,106.0 L573.4,105.9 L574.0,105.3 L574.5,104.1 L575.1,104.6 L575.6,105.8 L576.2,106.2 L576.7,105.4 L577.3,105.9 L577.8,104.8 L578.4,105.1 L578.9,105.2 L579.5,105.5 L580.0,104.3 L580.6,105.8 L581.1,106.0 L581.7,104.5 L582.2,104.4 L582.8,105.4 L583.3,104.8 L583.9,103.8 L584.4,105.7 L585.0,105.3 L585.5,104.9 L586.1,106.5 L586.6,105.3 L587.2,104.7 L587.7,105.3 L588.3,104.6 L588.8,104.7 L589.4,105.4 L589.9,104.9 L590.5,104.9 L591.0,106.2 L591.6,105.7 L592.1,105.7 L592.7,105.5 L593.2,105.5 L593.8,106.1 L594.3,105.2 L594.9,106.3 L595.4,104.6 L596.0,105.0 L596.5,104.4 L597.1,105.0 L597.6,105.5 L598.2,106.1 L598.7,104.8 L599.3,105.2 L599.8,105.0 L600.4,104.8 L600.9,104.5 L601.5,105.2 L602.0,104.2 L602.6,105.3 L603.1,105.2 L603.7,104.8 L604.2,104.6 L604.8,104.4 L605.3,106.3 L605.9,104.4 L606.4,106.1 L607.0,105.6 L607.5,105.0 L608.1,104.5 L608.6,105.8 L609.2,106.3 L609.7,104.7 L610.3,105.1 L610.8,105.9 L611.4,105.4 L611.9,106.4 L612.5,104.9 L613.0,105.6 L613.6,104.5 L614.1,106.5 L614.7,104.8 L615.2,103.9 L615.8,105.2 L616.3,105.2 L616.9,106.4 L617.4,105.1 L618.0,105.3 L618.5,105.6 L619.1,106.2 L619.6,105.3 L620.2,105.9 L620.7,105.6 L621.3,105.1 L621.8,105.4 L622.4,105.3 L622.9,104.8 L623.5,106.1 L624.0,104.5 L624.6,106.0 L625.1,105.9 L625.7,105.3 L626.2,104.9 L626.8,105.2 L627.3,105.6 L627.9,105.8 L628.4,105.5 L629.0,106.0 L629.5,105.0 L630.1,105.5 L630.6,104.4 L631.2,105.8 L631.7,105.5 L632.3,105.1 L632.8,106.1 L633.4,105.8 L633.9,103.7 L634.5,105.4 L635.0,104.5 L635.6,106.0 L636.1,106.9 L636.7,105.1 L637.2,105.4 L637.8,105.2 L638.3,105.6 L638.9,105.8 L639.4,106.2 L640.0,104.8 L640.5,106.3 L641.1,104.8 L641.6,105.6 L642.2,106.1 L642.7,105.8 L643.3,104.8 L643.8,105.0 L644.4,105.1 L644.9,105.4 L645.5,106.1 L646.0,104.6 L646.6,105.7 L647.1,105.8 L647.7,105.7 L648.2,105.7 L648.8,106.3 L649.3,105.7 L649.9,105.9 L650.4,105.7 L651.0,106.4 L651.5,104.2 L652.1,106.1 L652.6,105.2 L653.2,105.2 L653.7,104.8 L654.3,104.2 L654.8,105.1 L655.4,104.9 L655.9,105.6 L656.5,104.4 L657.0,106.2 L657.6,105.5 L658.1,105.2 L658.7,104.9 L659.2,104.8 L659.8,104.6 L660.3,105.0 L660.9,105.3 L661.4,105.2 L662.0,104.4 L662.5,105.1 L663.1,104.7 L663.6,105.4 L664.2,106.4 L664.7,105.6 L665.3,105.1 L665.8,104.3 L666.4,104.4 L666.9,104.2 L667.5,105.7 L668.0,104.8 L668.6,105.3 L669.1,104.8 L669.7,105.3" fill="none" stroke="#ff0000" stroke-width="2.9" stroke-linejoin="round" stroke-linecap="butt" />
<path d="M393.0,65.7 L393.6,64.5 L394.1,64.6 L394.7,64.3 L395.2,65.3 L395.8,64.2 L396.3,64.1 L396.9,63.9 L397.4,63.9 L398.0,65.0 L398.5,66.2 L399.1,64.1 L399.6,65.2 L400.2,64.8 L400.7,63.9 L401.3,64.4 L401.8,64.4 L402.4,64.1 L402.9,65.6 L403.5,63.3 L404.0,64.7 L404.6,64.6 L405.1,64.1 L405.7,64.5 L406.2,64.9 L406.8,64.4 L407.3,64.6 L407.9,64.7 L408.4,63.0 L409.0,65.1 L409.5,65.6 L410.1,64.8 L410.6,64.8 L411.2,63.3 L411.7,64.1 L412.3,63.6 L412.8,63.7 L413.4,64.6 L413.9,63.5 L414.5,63.9 L415.0,62.8 L415.6,63.8 L416.1,64.0 L416.7,63.5 L417.2,63.4 L417.8,64.9 L418.3,63.1 L418.9,63.1 L419.4,63.2 L420.0,64.4 L420.5,64.9 L421.1,63.8 L421.6,63.2 L422.2,63.3 L422.7,64.2 L423.3,63.0 L423.8,64.4 L424.4,64.4 L424.9,63.5 L425.5,63.9 L426.0,63.9 L426.6,64.4 L427.1,62.8 L427.7,64.1 L428.2,63.2 L428.8,62.9 L429.3,63.5 L429.9,63.3 L430.4,62.8 L431.0,62.4 L431.5,62.9 L432.1,64.3 L432.6,64.6 L433.2,63.9 L433.7,64.2 L434.3,63.2 L434.8,63.5 L435.4,63.7 L435.9,63.0 L436.5,63.0 L437.0,63.7 L437.6,63.5 L438.1,63.1 L438.7,64.0 L439.2,63.7 L439.8,64.5 L440.3,63.9 L440.9,63.8 L441.4,64.1 L442.0,63.9 L442.5,63.7 L443.1,63.8 L443.6,64.6 L444.2,64.5 L444.7,65.0 L445.3,63.2 L445.8,64.0 L446.4,64.0 L446.9,64.4 L447.5,64.1 L448.0,64.1 L448.6,64.9 L449.1,64.6 L449.7,63.8 L450.2,65.3 L450.8,65.2 L451.3,64.2 L451.9,65.1 L452.4,64.2 L453.0,65.3 L453.5,64.5 L454.1,64.2 L454.6,64.5 L455.2,64.2 L455.7,64.8 L456.3,64.7 L456.8,64.5 L457.4,64.1 L457.9,62.1 L458.5,64.2 L459.0,62.9 L459.6,64.0 L460.1,64.4 L460.7,63.8 L461.2,63.2 L461.8,63.3 L462.3,63.2 L462.9,62.8 L463.4,62.6 L464.0,62.3 L464.5,63.4 L465.1,62.6 L465.6,63.0 L466.2,62.2 L466.7,62.2 L467.3,61.9 L467.8,62.1 L468.4,62.2 L468.9,61.7 L469.5,61.0 L470.0,60.8 L470.6,62.0 L471.1,60.7 L471.7,60.5 L472.2,61.4 L472.8,61.0 L473.3,60.5 L473.9,59.7 L474.4,61.2 L475.0,59.8 L475.5,59.7 L476.1,59.0 L476.6,58.0 L477.2,57.8 L477.7,58.7 L478.3,58.4 L478.8,57.8 L479.4,57.0 L479.9,56.5 L480.5,56.9 L481.0,56.0 L481.6,57.1 L482.1,56.9 L482.7,57.6 L483.2,56.1 L483.8,54.9 L484.3,54.4 L484.9,52.5 L485.4,53.8 L486.0,53.7 L486.5,54.0 L487.1,53.4 L487.6,53.0 L488.2,52.3 L488.7,52.1 L489.3,52.2 L489.8,50.2 L490.4,50.1 L490.9,49.1 L491.5,50.4 L492.0,49.6 L492.6,48.8 L493.1,47.0 L493.7,47.2 L494.2,46.3 L494.8,45.9 L495.3,45.0 L495.9,44.8 L496.4,43.6 L497.0,43.6 L497.5,42.6 L498.1,41.6 L498.6,41.1 L499.2,40.3 L499.7,40.4 L500.3,39.0 L500.8,38.7 L501.4,37.6 L501.9,36.2 L502.5,37.0 L503.0,35.2 L503.6,35.6 L504.1,34.9 L504.7,33.1 L505.2,33.1 L505.8,33.0 L506.3,32.4 L506.9,31.7 L507.4,32.5 L508.0,31.6 L508.5,31.7 L509.1,31.0 L509.6,31.4 L510.2,30.8 L510.7,31.4 L511.3,32.0 L511.8,31.9 L512.4,32.0 L512.9,32.0 L513.5,33.2 L514.0,33.7 L514.6,33.8 L515.1,33.8 L515.7,35.0 L516.2,36.5 L516.8,35.2 L517.3,36.0 L517.9,36.4 L518.4,35.0 L519.0,37.1 L519.5,36.9 L520.1,38.6 L520.6,37.9 L521.2,37.9 L521.7,38.6 L522.3,39.1 L522.8,39.0 L523.4,39.6 L523.9,39.2 L524.5,40.1 L525.0,41.0 L525.6,42.0 L526.1,41.5 L526.7,41.5 L527.2,42.2 L527.8,42.2 L528.3,42.7 L528.9,42.3 L529.4,41.6 L530.0,41.7 L530.5,41.4 L531.1,41.3 L531.6,41.0 L532.2,40.1 L532.7,39.0 L533.3,39.5 L533.8,38.4 L534.4,39.3 L534.9,38.8 L535.5,37.3 L536.0,38.2 L536.6,37.7 L537.1,36.7 L537.7,37.0 L538.2,36.4 L538.8,34.0 L539.3,34.6 L539.9,33.3 L540.4,32.3 L541.0,31.6 L541.5,29.6 L542.1,28.9 L542.6,28.1 L543.2,27.8 L543.7,28.2 L544.3,27.9 L544.8,29.1 L545.4,31.2 L545.9,32.0 L546.5,33.6 L547.0,33.9 L547.6,36.6 L548.1,38.9 L548.7,41.5 L549.2,43.4 L549.8,46.3 L550.3,47.4 L550.9,49.0 L551.4,50.6 L552.0,52.5 L552.5,53.2 L553.1,55.5 L553.6,56.2 L554.2,57.0 L554.7,57.8 L555.3,58.9 L555.8,59.9 L556.4,60.6 L556.9,60.9 L557.5,61.8 L558.0,61.9 L558.6,63.0 L559.1,62.6 L559.7,61.6 L560.2,63.9 L560.8,63.5 L561.3,62.9 L561.9,63.7 L562.4,63.5 L563.0,65.4 L563.5,64.6 L564.1,63.4 L564.6,64.7 L565.2,64.2 L565.7,65.6 L566.3,63.8 L566.8,63.2 L567.4,64.6 L567.9,64.3 L568.5,64.3 L569.0,63.3 L569.6,64.8 L570.1,65.6 L570.7,63.4 L571.2,65.3 L571.8,64.3 L572.3,66.0 L572.9,64.9 L573.4,64.5 L574.0,65.3 L574.5,64.9 L575.1,64.2 L575.6,65.0 L576.2,64.3 L576.7,63.5 L577.3,65.8 L577.8,64.4 L578.4,64.2 L578.9,64.8 L579.5,63.6 L580.0,63.8 L580.6,64.3 L581.1,64.2 L581.7,64.6 L582.2,65.2 L582.8,64.3 L583.3,64.8 L583.9,64.9 L584.4,63.9 L585.0,64.7 L585.5,63.9 L586.1,65.1 L586.6,64.8 L587.2,64.5 L587.7,63.7 L588.3,64.5 L588.8,64.0 L589.4,64.9 L589.9,64.4 L590.5,64.0 L591.0,65.0 L591.6,64.9 L592.1,64.1 L592.7,65.1 L593.2,64.3 L593.8,64.2 L594.3,64.5 L594.9,64.0 L595.4,64.2 L596.0,64.3 L596.5,65.3 L597.1,65.3 L597.6,64.2 L598.2,65.4 L598.7,64.4 L599.3,64.6 L599.8,64.9 L600.4,64.6 L600.9,65.8 L601.5,64.5 L602.0,63.7 L602.6,65.2 L603.1,64.2 L603.7,64.2 L604.2,62.6 L604.8,65.0 L605.3,64.9 L605.9,64.9 L606.4,65.0 L607.0,65.4 L607.5,64.4 L608.1,65.0 L608.6,64.0 L609.2,64.2 L609.7,65.1 L610.3,64.7 L610.8,63.6 L611.4,64.7 L611.9,64.3 L612.5,64.0 L613.0,64.7 L613.6,64.2 L614.1,63.5 L614.7,63.8 L615.2,65.5 L615.8,63.6 L616.3,64.6 L616.9,64.8 L617.4,64.9 L618.0,63.7 L618.5,64.3 L619.1,64.6 L619.6,65.0 L620.2,64.1 L620.7,63.8 L621.3,65.1 L621.8,65.2 L622.4,64.7 L622.9,64.2 L623.5,64.8 L624.0,64.6 L624.6,65.0 L625.1,63.8 L625.7,64.6 L626.2,64.4 L626.8,63.9 L627.3,64.7 L627.9,64.6 L628.4,64.3 L629.0,64.8 L629.5,63.7 L630.1,64.5 L630.6,64.8 L631.2,64.7 L631.7,65.2 L632.3,63.9 L632.8,63.7 L633.4,64.7 L633.9,64.9 L634.5,65.9 L635.0,65.0 L635.6,64.1 L636.1,65.1 L636.7,64.1 L637.2,63.7 L637.8,66.2 L638.3,64.8 L638.9,65.0 L639.4,64.9 L640.0,65.7 L640.5,64.8 L641.1,65.3 L641.6,64.0 L642.2,63.8 L642.7,65.5 L643.3,65.5 L643.8,64.9 L644.4,64.7 L644.9,64.7 L645.5,64.2 L646.0,65.5 L646.6,65.0 L647.1,64.9 L647.7,64.8 L648.2,65.2 L648.8,64.9 L649.3,65.0 L649.9,63.9 L650.4,64.9 L651.0,65.9 L651.5,64.3 L652.1,64.5 L652.6,65.1 L653.2,65.1 L653.7,64.9 L654.3,63.6 L654.8,64.8 L655.4,63.8 L655.9,64.0 L656.5,64.9 L657.0,64.4 L657.6,65.0 L658.1,66.4 L658.7,65.0 L659.2,64.9 L659.8,64.0 L660.3,64.1 L660.9,63.9 L661.4,64.2 L662.0,63.8 L662.5,64.1 L663.1,64.3 L663.6,63.9 L664.2,63.6 L664.7,63.6 L665.3,64.7 L665.8,64.5 L666.4,65.1 L666.9,65.1 L667.5,64.2 L668.0,64.8 L668.6,63.6 L669.1,65.8 L669.7,65.1" fill="none" stroke="#0000ff" stroke-width="2.9" stroke-linejoin="round" stroke-linecap="butt" />
<rect x="392.8" y="2.3" width="277.10" height="223.00" fill="none" stroke="#000" stroke-width="2.8"/>
<line x1="392.80" y1="225.3" x2="392.80" y2="230.5" stroke="#000" stroke-width="2.2"/>
<line x1="462.07" y1="225.3" x2="462.07" y2="230.5" stroke="#000" stroke-width="2.2"/>
<line x1="531.35" y1="225.3" x2="531.35" y2="230.5" stroke="#000" stroke-width="2.2"/>
<line x1="600.62" y1="225.3" x2="600.62" y2="230.5" stroke="#000" stroke-width="2.2"/>
<line x1="669.90" y1="225.3" x2="669.90" y2="230.5" stroke="#000" stroke-width="2.2"/>
<text transform="translate(393.1,245.6) scale(0.8,1)" font-size="17.5" text-anchor="middle" fill="#000" font-weight="bold" stroke="#000" stroke-width="0.5" stroke-linejoin="round">500</text>
<text transform="translate(462.4,245.6) scale(0.8,1)" font-size="17.5" text-anchor="middle" fill="#000" font-weight="bold" stroke="#000" stroke-width="0.5" stroke-linejoin="round">1000</text>
<text transform="translate(531.6,245.6) scale(0.8,1)" font-size="17.5" text-anchor="middle" fill="#000" font-weight="bold" stroke="#000" stroke-width="0.5" stroke-linejoin="round">1500</text>
<text transform="translate(600.9,245.6) scale(0.8,1)" font-size="17.5" text-anchor="middle" fill="#000" font-weight="bold" stroke="#000" stroke-width="0.5" stroke-linejoin="round">2000</text>
<text transform="translate(670.2,245.6) scale(0.8,1)" font-size="17.5" text-anchor="middle" fill="#000" font-weight="bold" stroke="#000" stroke-width="0.5" stroke-linejoin="round">2500</text>
<text transform="translate(377.6,178.16) rotate(-90) scale(0.975,1)" font-size="19.2" text-anchor="start" fill="#000" font-weight="bold" stroke="#000" stroke-width="0.3" stroke-linejoin="round">Intensity</text>
<text transform="translate(377.6,96.9) rotate(-90) scale(1.25,1)" font-size="19.2" text-anchor="middle" fill="#000" font-weight="bold">/</text>
<text transform="translate(377.6,86.16) rotate(-90) scale(0.967,1)" font-size="19.2" text-anchor="start" fill="#000" font-weight="bold" stroke="#000" stroke-width="0.3" stroke-linejoin="round">a.u</text>
<text transform="translate(471,268.3) scale(0.97,1)" font-size="19" text-anchor="start" fill="#000" font-weight="bold">Raman shift /&#160; cm</text>
<text transform="translate(609.3,259.4) scale(0.8,1)" font-size="20" text-anchor="start" fill="#000" font-weight="bold" stroke="#000" stroke-width="0.5" stroke-linejoin="round">-1</text>
<text transform="translate(637.5,26.5)" font-size="25.7" text-anchor="middle" fill="#000" font-weight="bold">(b)</text>
<text transform="translate(508.2,28) scale(0.92,1)" font-size="13" text-anchor="middle" fill="#000" font-weight="bold" stroke="#000" stroke-width="0.35" stroke-linejoin="round">D</text>
<text transform="translate(543.6,24.5) scale(0.92,1)" font-size="13" text-anchor="middle" fill="#000" font-weight="bold" stroke="#000" stroke-width="0.35" stroke-linejoin="round">G</text>
<text transform="translate(400.7,55.8) scale(0.83,1)" font-size="14.3" text-anchor="start" fill="#000" font-weight="bold" stroke="#000" stroke-width="0.5" stroke-linejoin="round">N<tspan dx="2.5">FS_C</tspan></text>
<text transform="translate(399.2,98.25) scale(0.83,1)" font-size="14.3" text-anchor="start" fill="#000" font-weight="bold" stroke="#000" stroke-width="0.5" stroke-linejoin="round">N<tspan dx="2.5">S_C</tspan></text>
<text transform="translate(396,181.3) scale(0.83,1)" font-size="14.3" text-anchor="start" fill="#000" font-weight="bold" stroke="#000" stroke-width="0.5" stroke-linejoin="round">N<tspan dx="2.5">C_C</tspan></text>
<text transform="translate(581.4,54.9) scale(0.8,1)" font-size="14.3" text-anchor="start" fill="#0000ff" font-weight="bold" stroke="#0000ff" stroke-width="0.5" stroke-linejoin="round">I<tspan dy="2.8" font-size="13.5">D</tspan><tspan dy="-2.8">/</tspan></text>
<text transform="translate(606.3,54.9) scale(0.8,1)" font-size="14.3" text-anchor="start" fill="#0000ff" font-weight="bold" stroke="#0000ff" stroke-width="0.5" stroke-linejoin="round">I<tspan dy="2.8" font-size="13.5">G</tspan><tspan dy="-2.8" dx="3.5">=</tspan></text>
<text transform="translate(659.8,54.9) scale(0.8,1)" font-size="14.3" text-anchor="end" fill="#0000ff" font-weight="bold" stroke="#0000ff" stroke-width="0.5" stroke-linejoin="round">0.962</text>
<text transform="translate(585.4,95) scale(0.8,1)" font-size="14.3" text-anchor="start" fill="#ff0000" font-weight="bold" stroke="#ff0000" stroke-width="0.5" stroke-linejoin="round">I<tspan dy="2.8" font-size="13.5">D</tspan><tspan dy="-2.8">/</tspan></text>
<text transform="translate(610.3,95) scale(0.8,1)" font-size="14.3" text-anchor="start" fill="#ff0000" font-weight="bold" stroke="#ff0000" stroke-width="0.5" stroke-linejoin="round">I<tspan dy="2.8" font-size="13.5">G</tspan><tspan dy="-2.8" dx="3.5">=</tspan></text>
<text transform="translate(663.8,95) scale(0.8,1)" font-size="14.3" text-anchor="end" fill="#ff0000" font-weight="bold" stroke="#ff0000" stroke-width="0.5" stroke-linejoin="round">0.958</text>
<text transform="translate(588,177) scale(0.8,1)" font-size="14.3" text-anchor="start" fill="#000000" font-weight="bold" stroke="#000000" stroke-width="0.5" stroke-linejoin="round">I<tspan dy="2.8" font-size="13.5">D</tspan><tspan dy="-2.8">/</tspan></text>
<text transform="translate(612.9,177) scale(0.8,1)" font-size="14.3" text-anchor="start" fill="#000000" font-weight="bold" stroke="#000000" stroke-width="0.5" stroke-linejoin="round">I<tspan dy="2.8" font-size="13.5">G</tspan><tspan dy="-2.8" dx="3.5">=</tspan></text>
<text transform="translate(666.4,177) scale(0.8,1)" font-size="14.3" text-anchor="end" fill="#000000" font-weight="bold" stroke="#000000" stroke-width="0.5" stroke-linejoin="round">0.882</text>
<defs><radialGradient id="ball" cx="0.36" cy="0.36" r="0.55"><stop offset="0" stop-color="#fff"/><stop offset="0.25" stop-color="#ccc"/><stop offset="0.55" stop-color="#333"/><stop offset="0.9" stop-color="#000"/></radialGradient></defs>
<rect x="56.5" y="282.3" width="276.40" height="222.70" fill="none" stroke="#000" stroke-width="2.8"/>
<clipPath id="clipc"><rect x="56.1" y="282.3" width="276.4" height="222.7"/></clipPath><g clip-path="url(#clipc)">
<path d="M56.5,403.6 L58.3,384.5 L70.3,372.1 L84.1,366.4 L98.0,363.2 L111.8,360.4 L125.6,357.9 L139.4,355.9 L153.2,353.9 L167.1,351.5 L181.7,349.5 L195.5,346.9 L209.3,344.9 L223.2,342.4 L237.0,340.6 L250.8,338.2 L264.6,335.6 L278.4,332.3 L292.3,328.0 L304.7,319.7 L317.1,303.7" fill="none" stroke="#000000" stroke-width="2.8" stroke-linejoin="round" stroke-linecap="butt" />
<circle cx="56.5" cy="403.6" r="3.1" fill="url(#ball)" stroke="#000" stroke-width="1.1"/>
<circle cx="58.3" cy="384.5" r="3.1" fill="url(#ball)" stroke="#000" stroke-width="1.1"/>
<circle cx="70.3" cy="372.1" r="3.1" fill="url(#ball)" stroke="#000" stroke-width="1.1"/>
<circle cx="84.1" cy="366.4" r="3.1" fill="url(#ball)" stroke="#000" stroke-width="1.1"/>
<circle cx="98.0" cy="363.2" r="3.1" fill="url(#ball)" stroke="#000" stroke-width="1.1"/>
<circle cx="111.8" cy="360.4" r="3.1" fill="url(#ball)" stroke="#000" stroke-width="1.1"/>
<circle cx="125.6" cy="357.9" r="3.1" fill="url(#ball)" stroke="#000" stroke-width="1.1"/>
<circle cx="139.4" cy="355.9" r="3.1" fill="url(#ball)" stroke="#000" stroke-width="1.1"/>
<circle cx="153.2" cy="353.9" r="3.1" fill="url(#ball)" stroke="#000" stroke-width="1.1"/>
<circle cx="167.1" cy="351.5" r="3.1" fill="url(#ball)" stroke="#000" stroke-width="1.1"/>
<circle cx="181.7" cy="349.5" r="3.1" fill="url(#ball)" stroke="#000" stroke-width="1.1"/>
<circle cx="195.5" cy="346.9" r="3.1" fill="url(#ball)" stroke="#000" stroke-width="1.1"/>
<circle cx="209.3" cy="344.9" r="3.1" fill="url(#ball)" stroke="#000" stroke-width="1.1"/>
<circle cx="223.2" cy="342.4" r="3.1" fill="url(#ball)" stroke="#000" stroke-width="1.1"/>
<circle cx="237.0" cy="340.6" r="3.1" fill="url(#ball)" stroke="#000" stroke-width="1.1"/>
<circle cx="250.8" cy="338.2" r="3.1" fill="url(#ball)" stroke="#000" stroke-width="1.1"/>
<circle cx="264.6" cy="335.6" r="3.1" fill="url(#ball)" stroke="#000" stroke-width="1.1"/>
<circle cx="278.4" cy="332.3" r="3.1" fill="url(#ball)" stroke="#000" stroke-width="1.1"/>
<circle cx="292.3" cy="328.0" r="3.1" fill="url(#ball)" stroke="#000" stroke-width="1.1"/>
<circle cx="304.7" cy="319.7" r="3.1" fill="url(#ball)" stroke="#000" stroke-width="1.1"/>
<circle cx="317.1" cy="303.7" r="3.1" fill="url(#ball)" stroke="#000" stroke-width="1.1"/>
<path d="M58.3,384.5 L68.9,370.5 L82.8,364.8 L95.2,361.6 L109.0,358.7 L122.8,356.2 L136.7,353.9 L150.5,351.9 L164.3,349.5 L178.1,346.9 L191.9,344.6 L205.8,342.2 L219.6,339.8 L233.4,337.3 L247.2,335.1 L261.0,333.1 L274.9,330.1 L290.1,326.8 L304.7,319.7 L317.1,303.7" fill="none" stroke="#000000" stroke-width="2.8" stroke-linejoin="round" stroke-linecap="butt" />
<circle cx="58.3" cy="384.5" r="3.1" fill="url(#ball)" stroke="#000" stroke-width="1.1"/>
<circle cx="68.9" cy="370.5" r="3.1" fill="url(#ball)" stroke="#000" stroke-width="1.1"/>
<circle cx="82.8" cy="364.8" r="3.1" fill="url(#ball)" stroke="#000" stroke-width="1.1"/>
<circle cx="95.2" cy="361.6" r="3.1" fill="url(#ball)" stroke="#000" stroke-width="1.1"/>
<circle cx="109.0" cy="358.7" r="3.1" fill="url(#ball)" stroke="#000" stroke-width="1.1"/>
<circle cx="122.8" cy="356.2" r="3.1" fill="url(#ball)" stroke="#000" stroke-width="1.1"/>
<circle cx="136.7" cy="353.9" r="3.1" fill="url(#ball)" stroke="#000" stroke-width="1.1"/>
<circle cx="150.5" cy="351.9" r="3.1" fill="url(#ball)" stroke="#000" stroke-width="1.1"/>
<circle cx="164.3" cy="349.5" r="3.1" fill="url(#ball)" stroke="#000" stroke-width="1.1"/>
<circle cx="178.1" cy="346.9" r="3.1" fill="url(#ball)" stroke="#000" stroke-width="1.1"/>
<circle cx="191.9" cy="344.6" r="3.1" fill="url(#ball)" stroke="#000" stroke-width="1.1"/>
<circle cx="205.8" cy="342.2" r="3.1" fill="url(#ball)" stroke="#000" stroke-width="1.1"/>
<circle cx="219.6" cy="339.8" r="3.1" fill="url(#ball)" stroke="#000" stroke-width="1.1"/>
<circle cx="233.4" cy="337.3" r="3.1" fill="url(#ball)" stroke="#000" stroke-width="1.1"/>
<circle cx="247.2" cy="335.1" r="3.1" fill="url(#ball)" stroke="#000" stroke-width="1.1"/>
<circle cx="261.0" cy="333.1" r="3.1" fill="url(#ball)" stroke="#000" stroke-width="1.1"/>
<circle cx="274.9" cy="330.1" r="3.1" fill="url(#ball)" stroke="#000" stroke-width="1.1"/>
<circle cx="290.1" cy="326.8" r="3.1" fill="url(#ball)" stroke="#000" stroke-width="1.1"/>
<circle cx="304.7" cy="319.7" r="3.1" fill="url(#ball)" stroke="#000" stroke-width="1.1"/>
<circle cx="317.1" cy="303.7" r="3.1" fill="url(#ball)" stroke="#000" stroke-width="1.1"/>
<path d="M56.5,453.7 L56.6,448.0 L56.8,443.2 L56.9,438.3 L57.1,434.3 L57.3,430.3 L57.6,427.4 L58.2,425.0 L71.2,421.2 L84.0,418.1 L97.6,415.7 L111.5,413.5 L125.6,411.3 L139.4,409.3 L153.5,407.3 L167.6,405.5 L181.6,403.8 L195.5,402.0 L209.6,400.4 L222.7,398.6 L236.2,396.8 L250.3,394.9 L264.4,392.9 L278.4,390.5 L291.7,387.2 L304.4,382.6 L317.1,370.7" fill="none" stroke="#ff0000" stroke-width="2.8" stroke-linejoin="round" stroke-linecap="butt" />
<circle cx="56.5" cy="453.7" r="3.7" fill="#ff0000"/>
<circle cx="56.6" cy="448.0" r="3.7" fill="#ff0000"/>
<circle cx="56.8" cy="443.2" r="3.7" fill="#ff0000"/>
<circle cx="56.9" cy="438.3" r="3.7" fill="#ff0000"/>
<circle cx="57.1" cy="434.3" r="3.7" fill="#ff0000"/>
<circle cx="57.3" cy="430.3" r="3.7" fill="#ff0000"/>
<circle cx="57.6" cy="427.4" r="3.7" fill="#ff0000"/>
<circle cx="58.2" cy="425.0" r="3.7" fill="#ff0000"/>
<circle cx="71.2" cy="421.2" r="3.7" fill="#ff0000"/>
<circle cx="84.0" cy="418.1" r="3.7" fill="#ff0000"/>
<circle cx="97.6" cy="415.7" r="3.7" fill="#ff0000"/>
<circle cx="111.5" cy="413.5" r="3.7" fill="#ff0000"/>
<circle cx="125.6" cy="411.3" r="3.7" fill="#ff0000"/>
<circle cx="139.4" cy="409.3" r="3.7" fill="#ff0000"/>
<circle cx="153.5" cy="407.3" r="3.7" fill="#ff0000"/>
<circle cx="167.6" cy="405.5" r="3.7" fill="#ff0000"/>
<circle cx="181.6" cy="403.8" r="3.7" fill="#ff0000"/>
<circle cx="195.5" cy="402.0" r="3.7" fill="#ff0000"/>
<circle cx="209.6" cy="400.4" r="3.7" fill="#ff0000"/>
<circle cx="222.7" cy="398.6" r="3.7" fill="#ff0000"/>
<circle cx="236.2" cy="396.8" r="3.7" fill="#ff0000"/>
<circle cx="250.3" cy="394.9" r="3.7" fill="#ff0000"/>
<circle cx="264.4" cy="392.9" r="3.7" fill="#ff0000"/>
<circle cx="278.4" cy="390.5" r="3.7" fill="#ff0000"/>
<circle cx="291.7" cy="387.2" r="3.7" fill="#ff0000"/>
<circle cx="304.4" cy="382.6" r="3.7" fill="#ff0000"/>
<circle cx="317.1" cy="370.7" r="3.7" fill="#ff0000"/>
<path d="M58.2,425.0 L71.2,416.3 L84.0,413.8 L97.6,411.4 L110.9,409.4 L124.9,407.3 L139.0,405.4 L153.0,403.6 L167.0,401.8 L178.8,400.0 L192.8,398.3 L206.9,396.7 L220.4,395.1 L234.5,393.7 L248.4,392.0 L262.4,390.4 L276.9,388.7 L290.9,385.8 L304.4,381.8 L317.1,370.7" fill="none" stroke="#ff0000" stroke-width="2.8" stroke-linejoin="round" stroke-linecap="butt" />
<circle cx="58.2" cy="425.0" r="3.7" fill="#ff0000"/>
<circle cx="71.2" cy="416.3" r="3.7" fill="#ff0000"/>
<circle cx="84.0" cy="413.8" r="3.7" fill="#ff0000"/>
<circle cx="97.6" cy="411.4" r="3.7" fill="#ff0000"/>
<circle cx="110.9" cy="409.4" r="3.7" fill="#ff0000"/>
<circle cx="124.9" cy="407.3" r="3.7" fill="#ff0000"/>
<circle cx="139.0" cy="405.4" r="3.7" fill="#ff0000"/>
<circle cx="153.0" cy="403.6" r="3.7" fill="#ff0000"/>
<circle cx="167.0" cy="401.8" r="3.7" fill="#ff0000"/>
<circle cx="178.8" cy="400.0" r="3.7" fill="#ff0000"/>
<circle cx="192.8" cy="398.3" r="3.7" fill="#ff0000"/>
<circle cx="206.9" cy="396.7" r="3.7" fill="#ff0000"/>
<circle cx="220.4" cy="395.1" r="3.7" fill="#ff0000"/>
<circle cx="234.5" cy="393.7" r="3.7" fill="#ff0000"/>
<circle cx="248.4" cy="392.0" r="3.7" fill="#ff0000"/>
<circle cx="262.4" cy="390.4" r="3.7" fill="#ff0000"/>
<circle cx="276.9" cy="388.7" r="3.7" fill="#ff0000"/>
<circle cx="290.9" cy="385.8" r="3.7" fill="#ff0000"/>
<circle cx="304.4" cy="381.8" r="3.7" fill="#ff0000"/>
<circle cx="317.1" cy="370.7" r="3.7" fill="#ff0000"/>
<path d="M56.5,480.0 L57.1,476.3 L57.9,472.6 L59.8,470.5 L73.5,467.0 L86.4,464.6 L100.4,461.6 L114.3,458.5 L128.4,456.0 L142.5,453.4 L156.3,450.9 L170.4,448.7 L183.4,446.9 L196.6,445.1 L211.0,443.1 L225.1,441.1 L239.1,438.9 L253.1,436.7 L267.1,434.3 L281.1,431.7 L294.0,427.9 L307.3,421.6 L318.5,404.6" fill="none" stroke="#0000ff" stroke-width="2.8" stroke-linejoin="round" stroke-linecap="butt" />
<path d="M52.5,482.7 L60.5,482.7 L56.5,475.9Z" fill="#0000ff"/>
<path d="M53.1,479.0 L61.1,479.0 L57.1,472.2Z" fill="#0000ff"/>
<path d="M53.9,475.3 L61.9,475.3 L57.9,468.5Z" fill="#0000ff"/>
<path d="M55.8,473.2 L63.8,473.2 L59.8,466.4Z" fill="#0000ff"/>
<path d="M69.5,469.7 L77.5,469.7 L73.5,462.9Z" fill="#0000ff"/>
<path d="M82.4,467.3 L90.4,467.3 L86.4,460.5Z" fill="#0000ff"/>
<path d="M96.4,464.3 L104.4,464.3 L100.4,457.5Z" fill="#0000ff"/>
<path d="M110.3,461.2 L118.3,461.2 L114.3,454.4Z" fill="#0000ff"/>
<path d="M124.4,458.7 L132.4,458.7 L128.4,451.9Z" fill="#0000ff"/>
<path d="M138.5,456.1 L146.5,456.1 L142.5,449.3Z" fill="#0000ff"/>
<path d="M152.3,453.6 L160.3,453.6 L156.3,446.8Z" fill="#0000ff"/>
<path d="M166.4,451.4 L174.4,451.4 L170.4,444.6Z" fill="#0000ff"/>
<path d="M179.4,449.6 L187.4,449.6 L183.4,442.8Z" fill="#0000ff"/>
<path d="M192.6,447.8 L200.6,447.8 L196.6,441.0Z" fill="#0000ff"/>
<path d="M207.0,445.8 L215.0,445.8 L211.0,439.0Z" fill="#0000ff"/>
<path d="M221.1,443.8 L229.1,443.8 L225.1,437.0Z" fill="#0000ff"/>
<path d="M235.1,441.6 L243.1,441.6 L239.1,434.8Z" fill="#0000ff"/>
<path d="M249.1,439.4 L257.1,439.4 L253.1,432.6Z" fill="#0000ff"/>
<path d="M263.1,437.0 L271.1,437.0 L267.1,430.2Z" fill="#0000ff"/>
<path d="M277.1,434.4 L285.1,434.4 L281.1,427.6Z" fill="#0000ff"/>
<path d="M290.0,430.6 L298.0,430.6 L294.0,423.8Z" fill="#0000ff"/>
<path d="M303.3,424.3 L311.3,424.3 L307.3,417.5Z" fill="#0000ff"/>
<path d="M314.5,407.3 L322.5,407.3 L318.5,400.5Z" fill="#0000ff"/>
<path d="M57.9,472.6 L68.9,465.1 L81.7,462.3 L95.2,458.9 L109.3,456.0 L123.4,452.6 L136.7,449.6 L150.8,447.2 L164.6,444.9 L178.3,442.4 L191.9,440.0 L205.9,438.0 L219.9,436.1 L233.3,434.2 L247.3,432.4 L261.3,430.3 L275.3,427.9 L290.5,424.4 L304.0,418.5 L315.8,409.3 L318.5,404.6" fill="none" stroke="#0000ff" stroke-width="2.8" stroke-linejoin="round" stroke-linecap="butt" />
<path d="M53.9,475.3 L61.9,475.3 L57.9,468.5Z" fill="#0000ff"/>
<path d="M64.9,467.8 L72.9,467.8 L68.9,461.0Z" fill="#0000ff"/>
<path d="M77.7,465.0 L85.7,465.0 L81.7,458.2Z" fill="#0000ff"/>
<path d="M91.2,461.6 L99.2,461.6 L95.2,454.8Z" fill="#0000ff"/>
<path d="M105.3,458.7 L113.3,458.7 L109.3,451.9Z" fill="#0000ff"/>
<path d="M119.4,455.3 L127.4,455.3 L123.4,448.5Z" fill="#0000ff"/>
<path d="M132.7,452.3 L140.7,452.3 L136.7,445.5Z" fill="#0000ff"/>
<path d="M146.8,449.9 L154.8,449.9 L150.8,443.1Z" fill="#0000ff"/>
<path d="M160.6,447.6 L168.6,447.6 L164.6,440.8Z" fill="#0000ff"/>
<path d="M174.3,445.1 L182.3,445.1 L178.3,438.3Z" fill="#0000ff"/>
<path d="M187.9,442.7 L195.9,442.7 L191.9,435.9Z" fill="#0000ff"/>
<path d="M201.9,440.7 L209.9,440.7 L205.9,433.9Z" fill="#0000ff"/>
<path d="M215.9,438.8 L223.9,438.8 L219.9,432.0Z" fill="#0000ff"/>
<path d="M229.3,436.9 L237.3,436.9 L233.3,430.1Z" fill="#0000ff"/>
<path d="M243.3,435.1 L251.3,435.1 L247.3,428.3Z" fill="#0000ff"/>
<path d="M257.3,433.0 L265.3,433.0 L261.3,426.2Z" fill="#0000ff"/>
<path d="M271.3,430.6 L279.3,430.6 L275.3,423.8Z" fill="#0000ff"/>
<path d="M286.5,427.1 L294.5,427.1 L290.5,420.3Z" fill="#0000ff"/>
<path d="M300.0,421.2 L308.0,421.2 L304.0,414.4Z" fill="#0000ff"/>
<path d="M311.8,412.0 L319.8,412.0 L315.8,405.2Z" fill="#0000ff"/>
<path d="M314.5,407.3 L322.5,407.3 L318.5,400.5Z" fill="#0000ff"/>
</g>
<line x1="56.5" y1="484.40" x2="51.1" y2="484.40" stroke="#000" stroke-width="2.2"/>
<line x1="56.5" y1="444.00" x2="51.1" y2="444.00" stroke="#000" stroke-width="2.2"/>
<line x1="56.5" y1="403.60" x2="51.1" y2="403.60" stroke="#000" stroke-width="2.2"/>
<line x1="56.5" y1="363.20" x2="51.1" y2="363.20" stroke="#000" stroke-width="2.2"/>
<line x1="56.5" y1="322.80" x2="51.1" y2="322.80" stroke="#000" stroke-width="2.2"/>
<line x1="56.5" y1="282.40" x2="51.1" y2="282.40" stroke="#000" stroke-width="2.2"/>
<line x1="56.5" y1="504.60" x2="53.2" y2="504.60" stroke="#000" stroke-width="2.2"/>
<line x1="56.5" y1="464.20" x2="53.2" y2="464.20" stroke="#000" stroke-width="2.2"/>
<line x1="56.5" y1="423.80" x2="53.2" y2="423.80" stroke="#000" stroke-width="2.2"/>
<line x1="56.5" y1="383.40" x2="53.2" y2="383.40" stroke="#000" stroke-width="2.2"/>
<line x1="56.5" y1="343.00" x2="53.2" y2="343.00" stroke="#000" stroke-width="2.2"/>
<line x1="56.5" y1="302.60" x2="53.2" y2="302.60" stroke="#000" stroke-width="2.2"/>
<line x1="56.50" y1="505.0" x2="56.50" y2="509.8" stroke="#000" stroke-width="2.2"/>
<line x1="111.78" y1="505.0" x2="111.78" y2="509.8" stroke="#000" stroke-width="2.2"/>
<line x1="167.06" y1="505.0" x2="167.06" y2="509.8" stroke="#000" stroke-width="2.2"/>
<line x1="222.34" y1="505.0" x2="222.34" y2="509.8" stroke="#000" stroke-width="2.2"/>
<line x1="277.62" y1="505.0" x2="277.62" y2="509.8" stroke="#000" stroke-width="2.2"/>
<line x1="332.90" y1="505.0" x2="332.90" y2="509.8" stroke="#000" stroke-width="2.2"/>
<line x1="84.14" y1="505.0" x2="84.14" y2="508.3" stroke="#000" stroke-width="2.2"/>
<line x1="139.42" y1="505.0" x2="139.42" y2="508.3" stroke="#000" stroke-width="2.2"/>
<line x1="194.70" y1="505.0" x2="194.70" y2="508.3" stroke="#000" stroke-width="2.2"/>
<line x1="249.98" y1="505.0" x2="249.98" y2="508.3" stroke="#000" stroke-width="2.2"/>
<line x1="305.26" y1="505.0" x2="305.26" y2="508.3" stroke="#000" stroke-width="2.2"/>
<text transform="translate(50.6,489.35) scale(0.825,1)" font-size="18.3" text-anchor="end" fill="#000" font-weight="bold" stroke="#000" stroke-width="0.5" stroke-linejoin="round">0</text>
<text transform="translate(50.6,448.95) scale(0.825,1)" font-size="18.3" text-anchor="end" fill="#000" font-weight="bold" stroke="#000" stroke-width="0.5" stroke-linejoin="round">50</text>
<text transform="translate(50.6,408.55) scale(0.825,1)" font-size="18.3" text-anchor="end" fill="#000" font-weight="bold" stroke="#000" stroke-width="0.5" stroke-linejoin="round">100</text>
<text transform="translate(50.6,368.15) scale(0.825,1)" font-size="18.3" text-anchor="end" fill="#000" font-weight="bold" stroke="#000" stroke-width="0.5" stroke-linejoin="round">150</text>
<text transform="translate(50.6,327.75) scale(0.825,1)" font-size="18.3" text-anchor="end" fill="#000" font-weight="bold" stroke="#000" stroke-width="0.5" stroke-linejoin="round">200</text>
<text transform="translate(50.6,287.35) scale(0.825,1)" font-size="18.3" text-anchor="end" fill="#000" font-weight="bold" stroke="#000" stroke-width="0.5" stroke-linejoin="round">250</text>
<text transform="translate(56.7,524.25) scale(0.83,1)" font-size="18.6" text-anchor="middle" fill="#000" font-weight="bold" stroke="#000" stroke-width="0.5" stroke-linejoin="round">0.0</text>
<text transform="translate(112.0,524.25) scale(0.83,1)" font-size="18.6" text-anchor="middle" fill="#000" font-weight="bold" stroke="#000" stroke-width="0.5" stroke-linejoin="round">0.2</text>
<text transform="translate(167.3,524.25) scale(0.83,1)" font-size="18.6" text-anchor="middle" fill="#000" font-weight="bold" stroke="#000" stroke-width="0.5" stroke-linejoin="round">0.4</text>
<text transform="translate(222.5,524.25) scale(0.83,1)" font-size="18.6" text-anchor="middle" fill="#000" font-weight="bold" stroke="#000" stroke-width="0.5" stroke-linejoin="round">0.6</text>
<text transform="translate(277.8,524.25) scale(0.83,1)" font-size="18.6" text-anchor="middle" fill="#000" font-weight="bold" stroke="#000" stroke-width="0.5" stroke-linejoin="round">0.8</text>
<text transform="translate(333.1,524.25) scale(0.83,1)" font-size="18.6" text-anchor="middle" fill="#000" font-weight="bold" stroke="#000" stroke-width="0.5" stroke-linejoin="round">1.0</text>
<text transform="translate(91.5,543) scale(0.97,1)" font-size="18.5" text-anchor="start" fill="#000" font-weight="bold">Relative Pressure /</text>
<text transform="translate(245.1,543)" font-size="18.5" text-anchor="start" fill="#000" font-weight="bold">(P/ P</text>
<text transform="translate(284.6,547) scale(0.85,1)" font-size="19.5" text-anchor="start" fill="#000" font-weight="bold" stroke="#000" stroke-width="0.5" stroke-linejoin="round">0</text>
<text transform="translate(291.5,543)" font-size="18.5" text-anchor="start" fill="#000" font-weight="bold">)</text>
<text transform="translate(22.3,519.78) rotate(-90) scale(0.951,1)" font-size="18.8" text-anchor="start" fill="#000" font-weight="bold" stroke="#000" stroke-width="0.3" stroke-linejoin="round">Adsorbed</text>
<text transform="translate(22.3,437.98) rotate(-90) scale(0.981,1)" font-size="18.8" text-anchor="start" fill="#000" font-weight="bold" stroke="#000" stroke-width="0.3" stroke-linejoin="round">Vol.</text>
<text transform="translate(22.3,404.67) rotate(-90) scale(0.912,1)" font-size="18.8" text-anchor="start" fill="#000" font-weight="bold" stroke="#000" stroke-width="0.3" stroke-linejoin="round">(STP)</text>
<text transform="translate(22.3,349.3) rotate(-90) scale(1.25,1)" font-size="18.8" text-anchor="middle" fill="#000" font-weight="bold">/</text>
<text transform="translate(22.3,333.18) rotate(-90) scale(0.886,1)" font-size="18.8" text-anchor="start" fill="#000" font-weight="bold" stroke="#000" stroke-width="0.3" stroke-linejoin="round">cm</text>
<text transform="translate(13.2,309.52) rotate(-90) scale(0.805,1)" font-size="18.5" text-anchor="start" fill="#000" font-weight="bold" stroke="#000" stroke-width="0.3" stroke-linejoin="round">3</text>
<text transform="translate(22.3,295.04) rotate(-90) scale(0.938,1)" font-size="18.8" text-anchor="start" fill="#000" font-weight="bold" stroke="#000" stroke-width="0.3" stroke-linejoin="round">g</text>
<text transform="translate(13.2,284.6) rotate(-90) scale(0.923,1)" font-size="18.5" text-anchor="start" fill="#000" font-weight="bold" stroke="#000" stroke-width="0.3" stroke-linejoin="round">-1</text>
<text transform="translate(297.5,304.2)" font-size="26.5" text-anchor="middle" fill="#000" font-weight="bold">(c)</text>
<line x1="261.1" y1="454.30" x2="281.9" y2="454.30" stroke="#000000" stroke-width="2.4" stroke-linecap="round"/>
<circle cx="271.3" cy="454.30" r="2.9" fill="url(#ball)" stroke="#000" stroke-width="1.1"/>
<text transform="translate(284.3,457.80) scale(0.88,1)" font-size="14.6" text-anchor="start" fill="#000" font-weight="bold" stroke="#000" stroke-width="0.35" stroke-linejoin="round">N_C</text>
<line x1="261.1" y1="470.75" x2="281.9" y2="470.75" stroke="#ff0000" stroke-width="2.4" stroke-linecap="round"/>
<circle cx="271.3" cy="470.75" r="3.4" fill="#ff0000"/>
<text transform="translate(284.3,474.25) scale(0.83,1)" font-size="14.6" text-anchor="start" fill="#000" font-weight="bold" stroke="#000" stroke-width="0.5" stroke-linejoin="round">N<tspan dx="2.5">S_C</tspan></text>
<line x1="261.1" y1="487.20" x2="281.9" y2="487.20" stroke="#0000ff" stroke-width="2.4" stroke-linecap="round"/>
<path d="M267.3,489.80 L275.3,489.80 L271.3,483.00Z" fill="#0000ff"/>
<text transform="translate(284.3,490.70) scale(0.83,1)" font-size="14.6" text-anchor="start" fill="#000" font-weight="bold" stroke="#000" stroke-width="0.5" stroke-linejoin="round">N<tspan dx="2.5">FS_C</tspan></text>
<path d="M402.4,495.7 L405.7,493.3 L409.3,308.5 L412.1,301.3 L415.7,471.6 L418.4,488.5 L420.6,481.2 L425.1,445.0 L428.9,425.9 L433.4,447.4 L438.4,481.2 L441.7,488.5 L446.1,477.6 L450.5,488.5 L455.0,494.5 L474.3,495.0 L479.9,491.4 L485.4,486.5 L490.9,484.8 L499.2,485.6 L510.3,488.0 L521.4,487.2 L529.7,484.1 L536.9,482.7 L546.3,484.6 L554.6,488.5 L562.9,491.6 L571.2,492.3 L582.3,491.6 L596.1,490.6 L610.0,491.4 L621.0,491.8 L637.6,492.3 L659.8,492.3 L676.4,493.5" fill="none" stroke="#000000" stroke-width="2.5" stroke-linejoin="round" stroke-linecap="butt" />
<path d="M404.0,495.7 L407.4,495.0 L412.6,399.1 L416.8,495.2 L420.6,494.5 L424.0,486.0 L429.5,471.1 L435.0,481.2 L441.1,490.9 L445.5,484.8 L450.5,490.9 L456.1,495.5 L471.6,495.5 L477.1,490.9 L485.4,485.6 L493.7,483.6 L504.8,486.0 L515.9,488.5 L524.2,488.0 L532.5,486.5 L540.8,488.9 L551.8,490.4 L562.9,493.8 L574.0,493.3 L596.1,492.1 L615.5,493.3 L637.6,493.3 L659.8,493.5 L676.4,494.5" fill="none" stroke="#ff0000" stroke-width="2.5" stroke-linejoin="round" stroke-linecap="butt" />
<path d="M402.4,495.7 L407.9,495.2 L412.3,492.8 L416.2,486.0 L421.7,479.3 L427.3,481.9 L431.7,482.4 L437.2,480.5 L441.7,480.0 L447.2,484.8 L451.6,486.0 L456.6,485.6 L462.2,489.2 L467.1,490.1 L474.3,486.5 L482.6,482.9 L496.5,479.3 L504.8,481.2 L513.1,483.1 L521.4,483.1 L529.7,484.6 L538.0,486.0 L549.1,487.7 L562.9,490.6 L574.0,491.4 L585.1,490.4 L596.1,489.2 L607.2,490.1 L621.0,490.9 L637.6,491.1 L659.8,491.1 L676.4,492.8" fill="none" stroke="#0000ff" stroke-width="2.5" stroke-linejoin="round" stroke-linecap="butt" />
<rect x="399.6" y="278.4" width="276.80" height="220.90" fill="none" stroke="#000" stroke-width="2.8"/>
<line x1="399.6" y1="495.70" x2="394.40000000000003" y2="495.70" stroke="#000" stroke-width="2.2"/>
<line x1="399.6" y1="447.40" x2="394.40000000000003" y2="447.40" stroke="#000" stroke-width="2.2"/>
<line x1="399.6" y1="399.10" x2="394.40000000000003" y2="399.10" stroke="#000" stroke-width="2.2"/>
<line x1="399.6" y1="350.80" x2="394.40000000000003" y2="350.80" stroke="#000" stroke-width="2.2"/>
<line x1="399.6" y1="302.50" x2="394.40000000000003" y2="302.50" stroke="#000" stroke-width="2.2"/>
<line x1="399.60" y1="499.3" x2="399.60" y2="504.5" stroke="#000" stroke-width="2.2"/>
<line x1="454.96" y1="499.3" x2="454.96" y2="504.5" stroke="#000" stroke-width="2.2"/>
<line x1="510.32" y1="499.3" x2="510.32" y2="504.5" stroke="#000" stroke-width="2.2"/>
<line x1="565.68" y1="499.3" x2="565.68" y2="504.5" stroke="#000" stroke-width="2.2"/>
<line x1="621.04" y1="499.3" x2="621.04" y2="504.5" stroke="#000" stroke-width="2.2"/>
<line x1="676.40" y1="499.3" x2="676.40" y2="504.5" stroke="#000" stroke-width="2.2"/>
<text transform="translate(393,500.5) scale(0.82,1)" font-size="18.3" text-anchor="end" fill="#000" font-weight="bold" stroke="#000" stroke-width="0.5" stroke-linejoin="round">0.00</text>
<text transform="translate(393,452.2) scale(0.82,1)" font-size="18.3" text-anchor="end" fill="#000" font-weight="bold" stroke="#000" stroke-width="0.5" stroke-linejoin="round">0.02</text>
<text transform="translate(393,403.9) scale(0.82,1)" font-size="18.3" text-anchor="end" fill="#000" font-weight="bold" stroke="#000" stroke-width="0.5" stroke-linejoin="round">0.04</text>
<text transform="translate(393,355.6) scale(0.82,1)" font-size="18.3" text-anchor="end" fill="#000" font-weight="bold" stroke="#000" stroke-width="0.5" stroke-linejoin="round">0.06</text>
<text transform="translate(393,307.3) scale(0.82,1)" font-size="18.3" text-anchor="end" fill="#000" font-weight="bold" stroke="#000" stroke-width="0.5" stroke-linejoin="round">0.08</text>
<text transform="translate(399.9,519.8) scale(0.82,1)" font-size="18.4" text-anchor="middle" fill="#000" font-weight="bold" stroke="#000" stroke-width="0.5" stroke-linejoin="round">10</text>
<text transform="translate(455.3,519.8) scale(0.82,1)" font-size="18.4" text-anchor="middle" fill="#000" font-weight="bold" stroke="#000" stroke-width="0.5" stroke-linejoin="round">20</text>
<text transform="translate(510.6,519.8) scale(0.82,1)" font-size="18.4" text-anchor="middle" fill="#000" font-weight="bold" stroke="#000" stroke-width="0.5" stroke-linejoin="round">30</text>
<text transform="translate(566.0,519.8) scale(0.82,1)" font-size="18.4" text-anchor="middle" fill="#000" font-weight="bold" stroke="#000" stroke-width="0.5" stroke-linejoin="round">40</text>
<text transform="translate(621.3,519.8) scale(0.82,1)" font-size="18.4" text-anchor="middle" fill="#000" font-weight="bold" stroke="#000" stroke-width="0.5" stroke-linejoin="round">50</text>
<text transform="translate(676.7,519.8) scale(0.82,1)" font-size="18.4" text-anchor="middle" fill="#000" font-weight="bold" stroke="#000" stroke-width="0.5" stroke-linejoin="round">60</text>
<text transform="translate(497,541.5)" font-size="18.5" text-anchor="start" fill="#000" font-weight="bold">Pore size /&#160; Å</text>
<text transform="translate(360,473.9) rotate(-90) scale(0.78,1)" font-size="19.2" text-anchor="start" fill="#000" font-weight="bold" stroke="#000" stroke-width="0.3" stroke-linejoin="round">dV(r)</text>
<text transform="translate(360,424.6) rotate(-90) scale(1.25,1)" font-size="19.2" text-anchor="middle" fill="#000" font-weight="bold">/</text>
<text transform="translate(360,410.58) rotate(-90) scale(0.833,1)" font-size="19.8" text-anchor="start" fill="#000" font-weight="bold" stroke="#000" stroke-width="0.3" stroke-linejoin="round">cm</text>
<text transform="translate(350.8,385.98) rotate(-90) scale(1.207,1)" font-size="18.5" text-anchor="start" fill="#000" font-weight="bold" stroke="#000" stroke-width="0.3" stroke-linejoin="round">3</text>
<text transform="translate(360,370.66) rotate(-90) scale(0.842,1)" font-size="19.2" text-anchor="start" fill="#000" font-weight="bold" stroke="#000" stroke-width="0.3" stroke-linejoin="round">Å</text>
<text transform="translate(350.8,357.56) rotate(-90) scale(0.865,1)" font-size="18.5" text-anchor="start" fill="#000" font-weight="bold" stroke="#000" stroke-width="0.3" stroke-linejoin="round">-1</text>
<text transform="translate(360,338.11) rotate(-90) scale(1.037,1)" font-size="19.5" text-anchor="start" fill="#000" font-weight="bold" stroke="#000" stroke-width="0.3" stroke-linejoin="round">g</text>
<text transform="translate(350.8,325.39) rotate(-90) scale(0.915,1)" font-size="18.5" text-anchor="start" fill="#000" font-weight="bold" stroke="#000" stroke-width="0.3" stroke-linejoin="round">-1</text>
<text transform="translate(645,307.4)" font-size="25.7" text-anchor="middle" fill="#000" font-weight="bold">(d)</text>
<line x1="586.3" y1="414.3" x2="617.1" y2="414.3" stroke="#000000" stroke-width="2.5" stroke-linecap="round"/>
<text transform="translate(620.3,418.7) scale(0.94,1)" font-size="14.3" text-anchor="start" fill="#000" font-weight="bold" stroke="#000" stroke-width="0.35" stroke-linejoin="round">N_C</text>
<line x1="586.3" y1="432.9" x2="617.1" y2="432.9" stroke="#ff0000" stroke-width="2.5" stroke-linecap="round"/>
<text transform="translate(620.3,437.3) scale(0.87,1)" font-size="14.3" text-anchor="start" fill="#000" font-weight="bold" stroke="#000" stroke-width="0.35" stroke-linejoin="round">N<tspan dx="2.5">S_C</tspan></text>
<line x1="586.3" y1="451.6" x2="617.1" y2="451.6" stroke="#0000ff" stroke-width="2.5" stroke-linecap="round"/>
<text transform="translate(620.3,456.0) scale(0.87,1)" font-size="14.3" text-anchor="start" fill="#000" font-weight="bold" stroke="#000" stroke-width="0.35" stroke-linejoin="round">N<tspan dx="2.5">FS_C</tspan></text>
</svg>
</body></html>
